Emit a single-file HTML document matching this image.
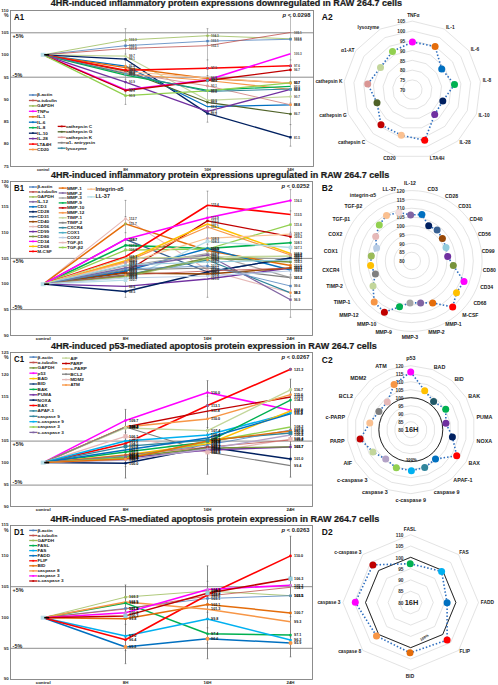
<!DOCTYPE html>
<html><head><meta charset="utf-8"><style>
html,body{margin:0;padding:0;background:#fff;width:498px;height:685px;overflow:hidden}
svg{display:block;font-family:"Liberation Sans", sans-serif}
</style></head><body>
<svg width="498" height="685" viewBox="0 0 498 685">
<rect width="498" height="685" fill="#fff"/>
<text x="50.8" y="6.3" font-size="8.9" font-weight="bold" text-anchor="start" fill="#1a1a1a" textLength="351.2" lengthAdjust="spacingAndGlyphs" stroke="#1a1a1a" stroke-width="0.22">4HR-induced inflammatory protein expressions downregulated in RAW 264.7 cells</text>
<text x="51.0" y="177.9" font-size="8.9" font-weight="bold" text-anchor="start" fill="#1a1a1a" textLength="338.2" lengthAdjust="spacingAndGlyphs" stroke="#1a1a1a" stroke-width="0.22">4HR-induced inflammatory protein expressions upregulated in RAW 264.7 cells</text>
<text x="51.0" y="349.2" font-size="8.9" font-weight="bold" text-anchor="start" fill="#1a1a1a" textLength="325.7" lengthAdjust="spacingAndGlyphs" stroke="#1a1a1a" stroke-width="0.22">4HR-induced p53-mediated apoptosis protein expression in RAW 264.7 cells</text>
<text x="50.6" y="521.6" font-size="8.9" font-weight="bold" text-anchor="start" fill="#1a1a1a" textLength="328.6" lengthAdjust="spacingAndGlyphs" stroke="#1a1a1a" stroke-width="0.22">4HR-induced FAS-mediated apoptosis protein expression in RAW 264.7 cells</text>
<rect x="10.5" y="10.5" width="303.0" height="156.0" fill="none" stroke="#808080" stroke-width="0.9"/>
<line x1="10.5" y1="32.8" x2="313.5" y2="32.8" stroke="#808080" stroke-width="0.9" />
<line x1="10.5" y1="77.2" x2="313.5" y2="77.2" stroke="#808080" stroke-width="0.9" />
<text x="12.6" y="37.8" font-size="5.4" font-weight="bold" text-anchor="start" fill="#222" >+5%</text>
<text x="12.6" y="76.5" font-size="5.4" font-weight="bold" text-anchor="start" fill="#222" >-5%</text>
<text x="1.2" y="11.8" font-size="3.7" font-weight="bold" fill="#333" textLength="7.5" lengthAdjust="spacingAndGlyphs">110</text>
<text x="1.2" y="34.0" font-size="3.7" font-weight="bold" fill="#333" textLength="7.5" lengthAdjust="spacingAndGlyphs">105</text>
<text x="1.2" y="56.3" font-size="3.7" font-weight="bold" fill="#333" textLength="7.5" lengthAdjust="spacingAndGlyphs">100</text>
<text x="3.7" y="78.5" font-size="3.7" font-weight="bold" fill="#333" textLength="5.0" lengthAdjust="spacingAndGlyphs">95</text>
<text x="3.7" y="100.8" font-size="3.7" font-weight="bold" fill="#333" textLength="5.0" lengthAdjust="spacingAndGlyphs">90</text>
<text x="3.7" y="123.0" font-size="3.7" font-weight="bold" fill="#333" textLength="5.0" lengthAdjust="spacingAndGlyphs">85</text>
<text x="3.7" y="145.3" font-size="3.7" font-weight="bold" fill="#333" textLength="5.0" lengthAdjust="spacingAndGlyphs">80</text>
<text x="3.7" y="167.6" font-size="3.7" font-weight="bold" fill="#333" textLength="5.0" lengthAdjust="spacingAndGlyphs">75</text>
<text x="8.6" y="16.7" font-size="5.2" font-weight="bold" text-anchor="end" fill="#333" >%</text>
<text x="14.0" y="20.0" font-size="8.4" font-weight="bold" text-anchor="start" fill="#111" textLength="10" lengthAdjust="spacingAndGlyphs">A1</text>
<text x="310.5" y="16.8" font-size="5.8" text-anchor="end" fill="#222" font-weight="bold"><tspan font-style="italic">p</tspan> &lt; 0.0298</text>
<text x="43.2" y="171.1" font-size="3.6" font-weight="bold" text-anchor="middle" fill="#222" >control</text>
<text x="125.5" y="171.1" font-size="3.6" font-weight="bold" text-anchor="middle" fill="#222" >8H</text>
<text x="207.5" y="171.1" font-size="3.6" font-weight="bold" text-anchor="middle" fill="#222" >16H</text>
<text x="290.5" y="171.1" font-size="3.6" font-weight="bold" text-anchor="middle" fill="#222" >24H</text>
<line x1="125.5" y1="28.7" x2="125.5" y2="104.4" stroke="#909090" stroke-width="0.6" />
<line x1="124.6" y1="28.7" x2="126.4" y2="28.7" stroke="#555" stroke-width="0.5" />
<line x1="124.6" y1="41.4" x2="126.4" y2="41.4" stroke="#555" stroke-width="0.5" />
<line x1="124.6" y1="54.0" x2="126.4" y2="54.0" stroke="#555" stroke-width="0.5" />
<line x1="124.6" y1="66.6" x2="126.4" y2="66.6" stroke="#555" stroke-width="0.5" />
<line x1="124.6" y1="79.2" x2="126.4" y2="79.2" stroke="#555" stroke-width="0.5" />
<line x1="124.6" y1="91.8" x2="126.4" y2="91.8" stroke="#555" stroke-width="0.5" />
<line x1="124.6" y1="104.4" x2="126.4" y2="104.4" stroke="#555" stroke-width="0.5" />
<line x1="207.5" y1="28.7" x2="207.5" y2="122.2" stroke="#909090" stroke-width="0.6" />
<line x1="206.6" y1="28.7" x2="208.4" y2="28.7" stroke="#555" stroke-width="0.5" />
<line x1="206.6" y1="44.3" x2="208.4" y2="44.3" stroke="#555" stroke-width="0.5" />
<line x1="206.6" y1="59.9" x2="208.4" y2="59.9" stroke="#555" stroke-width="0.5" />
<line x1="206.6" y1="75.5" x2="208.4" y2="75.5" stroke="#555" stroke-width="0.5" />
<line x1="206.6" y1="91.0" x2="208.4" y2="91.0" stroke="#555" stroke-width="0.5" />
<line x1="206.6" y1="106.6" x2="208.4" y2="106.6" stroke="#555" stroke-width="0.5" />
<line x1="206.6" y1="122.2" x2="208.4" y2="122.2" stroke="#555" stroke-width="0.5" />
<line x1="290.5" y1="16.7" x2="290.5" y2="146.2" stroke="#909090" stroke-width="0.6" />
<line x1="289.6" y1="16.7" x2="291.4" y2="16.7" stroke="#555" stroke-width="0.5" />
<line x1="289.6" y1="38.3" x2="291.4" y2="38.3" stroke="#555" stroke-width="0.5" />
<line x1="289.6" y1="59.9" x2="291.4" y2="59.9" stroke="#555" stroke-width="0.5" />
<line x1="289.6" y1="81.5" x2="291.4" y2="81.5" stroke="#555" stroke-width="0.5" />
<line x1="289.6" y1="103.1" x2="291.4" y2="103.1" stroke="#555" stroke-width="0.5" />
<line x1="289.6" y1="124.6" x2="291.4" y2="124.6" stroke="#555" stroke-width="0.5" />
<line x1="289.6" y1="146.2" x2="291.4" y2="146.2" stroke="#555" stroke-width="0.5" />
<polyline points="43.2,54.8 125.5,40.1 207.5,35.7 290.5,38.8" fill="none" stroke="#9bbb59" stroke-width="0.8" stroke-linejoin="round" />
<polyline points="43.2,54.8 125.5,45.7 207.5,41.1 290.5,39.3" fill="none" stroke="#4f81bd" stroke-width="0.8" stroke-linejoin="round" />
<polyline points="43.2,54.8 125.5,48.5 207.5,45.7 290.5,32.5" fill="none" stroke="#c0504d" stroke-width="0.8" stroke-linejoin="round" />
<polyline points="43.2,54.8 125.5,56.2 207.5,100.3 290.5,96.6" fill="none" stroke="#c3d69b" stroke-width="1.2" stroke-linejoin="round" />
<polyline points="43.2,54.8 125.5,59.2 207.5,113.4 290.5,137.3" fill="none" stroke="#002060" stroke-width="1.3" stroke-linejoin="round" />
<polyline points="43.2,54.8 125.5,66.1 207.5,106.7 290.5,104.8" fill="none" stroke="#0070c0" stroke-width="1.2" stroke-linejoin="round" />
<polyline points="43.2,54.8 125.5,67.6 207.5,78.5 290.5,83.1" fill="none" stroke="#e46c0a" stroke-width="1.3" stroke-linejoin="round" />
<polyline points="43.2,54.8 125.5,74.0 207.5,80.5 290.5,89.4" fill="none" stroke="#f79646" stroke-width="1.2" stroke-linejoin="round" />
<polyline points="43.2,54.8 125.5,71.5 207.5,78.0 290.5,83.0" fill="none" stroke="#fac090" stroke-width="1.2" stroke-linejoin="round" />
<polyline points="43.2,54.8 125.5,70.8 207.5,102.3 290.5,114.0" fill="none" stroke="#4f6228" stroke-width="1.2" stroke-linejoin="round" />
<polyline points="43.2,54.8 125.5,72.6 207.5,85.9 290.5,104.8" fill="none" stroke="#d99694" stroke-width="1.0" stroke-linejoin="round" />
<polyline points="43.2,54.8 125.5,75.1 207.5,90.3 290.5,86.3" fill="none" stroke="#00b050" stroke-width="1.3" stroke-linejoin="round" />
<polyline points="43.2,54.8 125.5,82.1 207.5,111.4 290.5,89.4" fill="none" stroke="#7030a0" stroke-width="1.3" stroke-linejoin="round" />
<polyline points="43.2,54.8 125.5,70.2 207.5,68.2 290.5,65.8" fill="none" stroke="#ff0000" stroke-width="1.4" stroke-linejoin="round" />
<polyline points="43.2,54.8 125.5,89.7 207.5,80.0 290.5,53.7" fill="none" stroke="#ff00ff" stroke-width="1.5" stroke-linejoin="round" />
<polyline points="43.2,54.8 125.5,90.5 207.5,80.5 290.5,69.9" fill="none" stroke="#c00000" stroke-width="1.3" stroke-linejoin="round" />
<polyline points="43.2,54.8 125.5,95.7 207.5,90.8 290.5,82.9" fill="none" stroke="#92d050" stroke-width="1.3" stroke-linejoin="round" />
<polyline points="43.2,54.8 125.5,73.5 207.5,91.5 290.5,89.0" fill="none" stroke="#31859c" stroke-width="1.0" stroke-linejoin="round" />
<circle cx="125.5" cy="40.1" r="1.3" fill="#9bbb59"/>
<circle cx="207.5" cy="35.7" r="1.3" fill="#9bbb59"/>
<circle cx="290.5" cy="38.8" r="1.3" fill="#9bbb59"/>
<rect x="124.3" y="44.5" width="2.4" height="2.4" fill="#4f81bd"/>
<rect x="206.3" y="39.9" width="2.4" height="2.4" fill="#4f81bd"/>
<rect x="289.3" y="38.1" width="2.4" height="2.4" fill="#4f81bd"/>
<circle cx="125.5" cy="56.2" r="1.3" fill="#c3d69b"/>
<circle cx="207.5" cy="100.3" r="1.3" fill="#c3d69b"/>
<circle cx="290.5" cy="96.6" r="1.3" fill="#c3d69b"/>
<rect x="124.3" y="58.0" width="2.4" height="2.4" fill="#002060"/>
<rect x="206.3" y="112.2" width="2.4" height="2.4" fill="#002060"/>
<rect x="289.3" y="136.1" width="2.4" height="2.4" fill="#002060"/>
<circle cx="125.5" cy="67.6" r="1.3" fill="#e46c0a"/>
<circle cx="207.5" cy="78.5" r="1.3" fill="#e46c0a"/>
<circle cx="290.5" cy="83.1" r="1.3" fill="#e46c0a"/>
<rect x="124.3" y="72.8" width="2.4" height="2.4" fill="#f79646"/>
<rect x="206.3" y="79.3" width="2.4" height="2.4" fill="#f79646"/>
<rect x="289.3" y="88.2" width="2.4" height="2.4" fill="#f79646"/>
<circle cx="125.5" cy="70.8" r="1.3" fill="#4f6228"/>
<circle cx="207.5" cy="102.3" r="1.3" fill="#4f6228"/>
<circle cx="290.5" cy="114.0" r="1.3" fill="#4f6228"/>
<rect x="124.3" y="71.4" width="2.4" height="2.4" fill="#d99694"/>
<rect x="206.3" y="84.7" width="2.4" height="2.4" fill="#d99694"/>
<rect x="289.3" y="103.6" width="2.4" height="2.4" fill="#d99694"/>
<circle cx="125.5" cy="82.1" r="1.3" fill="#7030a0"/>
<circle cx="207.5" cy="111.4" r="1.3" fill="#7030a0"/>
<circle cx="290.5" cy="89.4" r="1.3" fill="#7030a0"/>
<rect x="124.3" y="69.0" width="2.4" height="2.4" fill="#ff0000"/>
<rect x="206.3" y="67.0" width="2.4" height="2.4" fill="#ff0000"/>
<rect x="289.3" y="64.6" width="2.4" height="2.4" fill="#ff0000"/>
<circle cx="125.5" cy="90.5" r="1.3" fill="#c00000"/>
<circle cx="207.5" cy="80.5" r="1.3" fill="#c00000"/>
<circle cx="290.5" cy="69.9" r="1.3" fill="#c00000"/>
<rect x="124.3" y="94.5" width="2.4" height="2.4" fill="#92d050"/>
<rect x="206.3" y="89.6" width="2.4" height="2.4" fill="#92d050"/>
<rect x="289.3" y="81.7" width="2.4" height="2.4" fill="#92d050"/>
<rect x="124.2" y="72.7" width="2.6" height="2.6" fill="#4bacc6"/>
<rect x="206.2" y="79.2" width="2.6" height="2.6" fill="#4bacc6"/>
<rect x="289.2" y="88.1" width="2.6" height="2.6" fill="#4bacc6"/>
<circle cx="125.5" cy="66.1" r="1.3" fill="#f79646"/>
<circle cx="290.5" cy="104.8" r="1.3" fill="#f79646"/>
<rect x="206.5" y="67.2" width="2.0" height="2.0" fill="#8064a2" transform="rotate(45 207.5 68.2)"/>
<rect x="289.5" y="64.8" width="2.0" height="2.0" fill="#8064a2" transform="rotate(45 290.5 65.8)"/>
<circle cx="290.5" cy="83.1" r="1.2" fill="#f79646"/>
<text x="129.1" y="41.3" font-size="3.0" font-weight="bold" text-anchor="start" fill="#444" >103.3</text>
<text x="211.1" y="36.9" font-size="3.0" font-weight="bold" text-anchor="start" fill="#444" >104.3</text>
<text x="294.1" y="40.0" font-size="3.0" font-weight="bold" text-anchor="start" fill="#444" >103.6</text>
<text x="129.1" y="46.9" font-size="3.0" font-weight="bold" text-anchor="start" fill="#444" >102.1</text>
<text x="211.1" y="42.3" font-size="3.0" font-weight="bold" text-anchor="start" fill="#444" >103.1</text>
<text x="294.1" y="40.5" font-size="3.0" font-weight="bold" text-anchor="start" fill="#444" >103.5</text>
<text x="129.1" y="49.7" font-size="3.0" font-weight="bold" text-anchor="start" fill="#444" >101.5</text>
<text x="211.1" y="46.9" font-size="3.0" font-weight="bold" text-anchor="start" fill="#444" >102.1</text>
<text x="294.1" y="33.7" font-size="3.0" font-weight="bold" text-anchor="start" fill="#444" >105.1</text>
<text x="129.1" y="57.4" font-size="3.0" font-weight="bold" text-anchor="start" fill="#444" >99.7</text>
<text x="211.1" y="101.5" font-size="3.0" font-weight="bold" text-anchor="start" fill="#444" >89.8</text>
<text x="294.1" y="97.8" font-size="3.0" font-weight="bold" text-anchor="start" fill="#444" >90.7</text>
<text x="129.1" y="60.4" font-size="3.0" font-weight="bold" text-anchor="start" fill="#444" >99.1</text>
<text x="211.1" y="114.6" font-size="3.0" font-weight="bold" text-anchor="start" fill="#444" >86.9</text>
<text x="294.1" y="138.5" font-size="3.0" font-weight="bold" text-anchor="start" fill="#444" >81.5</text>
<text x="129.1" y="67.3" font-size="3.0" font-weight="bold" text-anchor="start" fill="#444" >97.5</text>
<text x="211.1" y="107.9" font-size="3.0" font-weight="bold" text-anchor="start" fill="#444" >88.4</text>
<text x="294.1" y="106.0" font-size="3.0" font-weight="bold" text-anchor="start" fill="#444" >88.8</text>
<text x="129.1" y="68.8" font-size="3.0" font-weight="bold" text-anchor="start" fill="#444" >97.2</text>
<text x="211.1" y="79.7" font-size="3.0" font-weight="bold" text-anchor="start" fill="#444" >94.7</text>
<text x="294.1" y="84.3" font-size="3.0" font-weight="bold" text-anchor="start" fill="#444" >93.7</text>
<text x="129.1" y="75.2" font-size="3.0" font-weight="bold" text-anchor="start" fill="#444" >95.7</text>
<text x="211.1" y="81.7" font-size="3.0" font-weight="bold" text-anchor="start" fill="#444" >94.3</text>
<text x="294.1" y="90.6" font-size="3.0" font-weight="bold" text-anchor="start" fill="#444" >92.3</text>
<text x="129.1" y="72.7" font-size="3.0" font-weight="bold" text-anchor="start" fill="#444" >96.3</text>
<text x="211.1" y="79.2" font-size="3.0" font-weight="bold" text-anchor="start" fill="#444" >94.8</text>
<text x="294.1" y="84.2" font-size="3.0" font-weight="bold" text-anchor="start" fill="#444" >93.7</text>
<text x="129.1" y="72.0" font-size="3.0" font-weight="bold" text-anchor="start" fill="#444" >96.4</text>
<text x="211.1" y="103.5" font-size="3.0" font-weight="bold" text-anchor="start" fill="#444" >89.4</text>
<text x="294.1" y="115.2" font-size="3.0" font-weight="bold" text-anchor="start" fill="#444" >86.7</text>
<text x="129.1" y="73.8" font-size="3.0" font-weight="bold" text-anchor="start" fill="#444" >96.0</text>
<text x="211.1" y="87.1" font-size="3.0" font-weight="bold" text-anchor="start" fill="#444" >93.1</text>
<text x="294.1" y="106.0" font-size="3.0" font-weight="bold" text-anchor="start" fill="#444" >88.8</text>
<text x="129.1" y="76.3" font-size="3.0" font-weight="bold" text-anchor="start" fill="#444" >95.5</text>
<text x="211.1" y="91.5" font-size="3.0" font-weight="bold" text-anchor="start" fill="#444" >92.1</text>
<text x="294.1" y="87.5" font-size="3.0" font-weight="bold" text-anchor="start" fill="#444" >93.0</text>
<text x="129.1" y="83.3" font-size="3.0" font-weight="bold" text-anchor="start" fill="#444" >93.9</text>
<text x="211.1" y="112.6" font-size="3.0" font-weight="bold" text-anchor="start" fill="#444" >87.3</text>
<text x="294.1" y="90.6" font-size="3.0" font-weight="bold" text-anchor="start" fill="#444" >92.3</text>
<text x="129.1" y="71.4" font-size="3.0" font-weight="bold" text-anchor="start" fill="#444" >96.6</text>
<text x="211.1" y="69.4" font-size="3.0" font-weight="bold" text-anchor="start" fill="#444" >97.0</text>
<text x="294.1" y="67.0" font-size="3.0" font-weight="bold" text-anchor="start" fill="#444" >97.6</text>
<text x="129.1" y="90.9" font-size="3.0" font-weight="bold" text-anchor="start" fill="#444" >92.2</text>
<text x="211.1" y="81.2" font-size="3.0" font-weight="bold" text-anchor="start" fill="#444" >94.4</text>
<text x="294.1" y="54.9" font-size="3.0" font-weight="bold" text-anchor="start" fill="#444" >100.3</text>
<text x="129.1" y="91.7" font-size="3.0" font-weight="bold" text-anchor="start" fill="#444" >92.0</text>
<text x="211.1" y="81.7" font-size="3.0" font-weight="bold" text-anchor="start" fill="#444" >94.3</text>
<text x="294.1" y="71.1" font-size="3.0" font-weight="bold" text-anchor="start" fill="#444" >96.7</text>
<text x="129.1" y="96.9" font-size="3.0" font-weight="bold" text-anchor="start" fill="#444" >90.9</text>
<text x="211.1" y="92.0" font-size="3.0" font-weight="bold" text-anchor="start" fill="#444" >92.0</text>
<text x="294.1" y="84.1" font-size="3.0" font-weight="bold" text-anchor="start" fill="#444" >93.7</text>
<text x="129.1" y="74.7" font-size="3.0" font-weight="bold" text-anchor="start" fill="#444" >95.8</text>
<text x="211.1" y="92.7" font-size="3.0" font-weight="bold" text-anchor="start" fill="#444" >91.8</text>
<text x="294.1" y="90.2" font-size="3.0" font-weight="bold" text-anchor="start" fill="#444" >92.4</text>
<rect x="40.7" y="52.8" width="5" height="4" fill="#b7dee8"/>
<line x1="44.2" y1="54.8" x2="49.2" y2="54.8" stroke="#000" stroke-width="1.6" />
<line x1="28.9" y1="95.0" x2="36.9" y2="95.0" stroke="#4f81bd" stroke-width="1.3" />
<rect x="32.0" y="94.1" width="1.8" height="1.8" fill="#4f81bd" opacity="0.8"/>
<text transform="translate(37.1,96.45) scale(1.16,1)" font-size="4.0" font-weight="bold" fill="#222">β-actin</text>
<line x1="28.9" y1="100.5" x2="36.9" y2="100.5" stroke="#c0504d" stroke-width="1.3" />
<rect x="32.0" y="99.5" width="1.8" height="1.8" fill="#c0504d" opacity="0.8"/>
<text transform="translate(37.1,101.90) scale(1.16,1)" font-size="4.0" font-weight="bold" fill="#222">α-tubulin</text>
<line x1="28.9" y1="105.9" x2="36.9" y2="105.9" stroke="#9bbb59" stroke-width="1.3" />
<rect x="32.0" y="105.0" width="1.8" height="1.8" fill="#9bbb59" opacity="0.8"/>
<text transform="translate(37.1,107.35) scale(1.16,1)" font-size="4.0" font-weight="bold" fill="#222">GAPDH</text>
<line x1="28.9" y1="111.3" x2="36.9" y2="111.3" stroke="#ff00ff" stroke-width="1.3" />
<rect x="32.0" y="110.4" width="1.8" height="1.8" fill="#ff00ff" opacity="0.8"/>
<text transform="translate(37.1,112.80) scale(1.16,1)" font-size="4.0" font-weight="bold" fill="#222">TNFα</text>
<line x1="28.9" y1="116.8" x2="36.9" y2="116.8" stroke="#e46c0a" stroke-width="1.3" />
<rect x="32.0" y="115.9" width="1.8" height="1.8" fill="#e46c0a" opacity="0.8"/>
<text transform="translate(37.1,118.25) scale(1.16,1)" font-size="4.0" font-weight="bold" fill="#222">IL-1</text>
<line x1="28.9" y1="122.2" x2="36.9" y2="122.2" stroke="#0070c0" stroke-width="1.3" />
<rect x="32.0" y="121.3" width="1.8" height="1.8" fill="#0070c0" opacity="0.8"/>
<text transform="translate(37.1,123.70) scale(1.16,1)" font-size="4.0" font-weight="bold" fill="#222">IL-6</text>
<line x1="28.9" y1="127.7" x2="36.9" y2="127.7" stroke="#00b050" stroke-width="1.3" />
<rect x="32.0" y="126.8" width="1.8" height="1.8" fill="#00b050" opacity="0.8"/>
<text transform="translate(37.1,129.15) scale(1.16,1)" font-size="4.0" font-weight="bold" fill="#222">IL-8</text>
<line x1="28.9" y1="133.2" x2="36.9" y2="133.2" stroke="#002060" stroke-width="1.3" />
<rect x="32.0" y="132.2" width="1.8" height="1.8" fill="#002060" opacity="0.8"/>
<text transform="translate(37.1,134.60) scale(1.16,1)" font-size="4.0" font-weight="bold" fill="#222">IL-10</text>
<line x1="28.9" y1="138.6" x2="36.9" y2="138.6" stroke="#7030a0" stroke-width="1.3" />
<rect x="32.0" y="137.7" width="1.8" height="1.8" fill="#7030a0" opacity="0.8"/>
<text transform="translate(37.1,140.05) scale(1.16,1)" font-size="4.0" font-weight="bold" fill="#222">IL-28</text>
<line x1="28.9" y1="144.1" x2="36.9" y2="144.1" stroke="#ff0000" stroke-width="1.3" />
<rect x="32.0" y="143.2" width="1.8" height="1.8" fill="#ff0000" opacity="0.8"/>
<text transform="translate(37.1,145.50) scale(1.16,1)" font-size="4.0" font-weight="bold" fill="#222">LTA4H</text>
<line x1="28.9" y1="149.5" x2="36.9" y2="149.5" stroke="#f79646" stroke-width="1.3" />
<rect x="32.0" y="148.6" width="1.8" height="1.8" fill="#f79646" opacity="0.8"/>
<text transform="translate(37.1,150.95) scale(1.16,1)" font-size="4.0" font-weight="bold" fill="#222">CD20</text>
<line x1="57.7" y1="126.4" x2="65.7" y2="126.4" stroke="#c00000" stroke-width="1.3" />
<rect x="60.8" y="125.5" width="1.8" height="1.8" fill="#c00000" opacity="0.8"/>
<text transform="translate(65.9,127.85) scale(1.16,1)" font-size="4.0" font-weight="bold" fill="#222">cathepsin C</text>
<line x1="57.7" y1="131.8" x2="65.7" y2="131.8" stroke="#4f6228" stroke-width="1.3" />
<rect x="60.8" y="130.9" width="1.8" height="1.8" fill="#4f6228" opacity="0.8"/>
<text transform="translate(65.9,133.30) scale(1.16,1)" font-size="4.0" font-weight="bold" fill="#222">cathepsin G</text>
<line x1="57.7" y1="137.3" x2="65.7" y2="137.3" stroke="#d99694" stroke-width="1.3" />
<rect x="60.8" y="136.4" width="1.8" height="1.8" fill="#d99694" opacity="0.8"/>
<text transform="translate(65.9,138.75) scale(1.16,1)" font-size="4.0" font-weight="bold" fill="#222">cathepsin K</text>
<line x1="57.7" y1="142.8" x2="65.7" y2="142.8" stroke="#7f7f7f" stroke-width="1.3" />
<rect x="60.8" y="141.8" width="1.8" height="1.8" fill="#7f7f7f" opacity="0.8"/>
<text transform="translate(65.9,144.20) scale(1.16,1)" font-size="4.0" font-weight="bold" fill="#222">α1- antrypsin</text>
<line x1="57.7" y1="148.2" x2="65.7" y2="148.2" stroke="#31859c" stroke-width="1.3" />
<rect x="60.8" y="147.3" width="1.8" height="1.8" fill="#31859c" opacity="0.8"/>
<text transform="translate(65.9,149.65) scale(1.16,1)" font-size="4.0" font-weight="bold" fill="#222">lysozyme</text>
<rect x="10.5" y="181.5" width="302.0" height="154.0" fill="none" stroke="#808080" stroke-width="0.9"/>
<line x1="10.5" y1="258.4" x2="312.5" y2="258.4" stroke="#808080" stroke-width="0.9" />
<line x1="10.5" y1="309.6" x2="312.5" y2="309.6" stroke="#808080" stroke-width="0.9" />
<text x="12.6" y="263.4" font-size="5.4" font-weight="bold" text-anchor="start" fill="#222" >+5%</text>
<text x="12.6" y="308.8" font-size="5.4" font-weight="bold" text-anchor="start" fill="#222" >-5%</text>
<text x="1.2" y="182.7" font-size="3.7" font-weight="bold" fill="#333" textLength="7.5" lengthAdjust="spacingAndGlyphs">120</text>
<text x="1.2" y="208.4" font-size="3.7" font-weight="bold" fill="#333" textLength="7.5" lengthAdjust="spacingAndGlyphs">115</text>
<text x="1.2" y="234.0" font-size="3.7" font-weight="bold" fill="#333" textLength="7.5" lengthAdjust="spacingAndGlyphs">110</text>
<text x="1.2" y="259.7" font-size="3.7" font-weight="bold" fill="#333" textLength="7.5" lengthAdjust="spacingAndGlyphs">105</text>
<text x="1.2" y="285.3" font-size="3.7" font-weight="bold" fill="#333" textLength="7.5" lengthAdjust="spacingAndGlyphs">100</text>
<text x="3.7" y="310.9" font-size="3.7" font-weight="bold" fill="#333" textLength="5.0" lengthAdjust="spacingAndGlyphs">95</text>
<text x="3.7" y="336.6" font-size="3.7" font-weight="bold" fill="#333" textLength="5.0" lengthAdjust="spacingAndGlyphs">90</text>
<text x="8.6" y="187.7" font-size="5.2" font-weight="bold" text-anchor="end" fill="#333" >%</text>
<text x="14.0" y="191.0" font-size="8.4" font-weight="bold" text-anchor="start" fill="#111" textLength="10" lengthAdjust="spacingAndGlyphs">B1</text>
<text x="309.5" y="187.8" font-size="5.8" text-anchor="end" fill="#222" font-weight="bold"><tspan font-style="italic">p</tspan> &lt; 0.0252</text>
<text x="43.2" y="340.1" font-size="4.4" font-weight="bold" text-anchor="middle" fill="#222" >control</text>
<text x="125.5" y="340.1" font-size="4.4" font-weight="bold" text-anchor="middle" fill="#222" >8H</text>
<text x="207.5" y="340.1" font-size="4.4" font-weight="bold" text-anchor="middle" fill="#222" >16H</text>
<text x="290.5" y="340.1" font-size="4.4" font-weight="bold" text-anchor="middle" fill="#222" >24H</text>
<line x1="125.5" y1="200.4" x2="125.5" y2="297.3" stroke="#9a9a9a" stroke-width="0.65" />
<line x1="124.6" y1="200.4" x2="126.4" y2="200.4" stroke="#555" stroke-width="0.5" />
<line x1="124.6" y1="216.5" x2="126.4" y2="216.5" stroke="#555" stroke-width="0.5" />
<line x1="124.6" y1="232.7" x2="126.4" y2="232.7" stroke="#555" stroke-width="0.5" />
<line x1="124.6" y1="248.9" x2="126.4" y2="248.9" stroke="#555" stroke-width="0.5" />
<line x1="124.6" y1="265.0" x2="126.4" y2="265.0" stroke="#555" stroke-width="0.5" />
<line x1="124.6" y1="281.2" x2="126.4" y2="281.2" stroke="#555" stroke-width="0.5" />
<line x1="124.6" y1="297.3" x2="126.4" y2="297.3" stroke="#555" stroke-width="0.5" />
<line x1="207.5" y1="191.1" x2="207.5" y2="297.3" stroke="#9a9a9a" stroke-width="0.65" />
<line x1="206.6" y1="191.1" x2="208.4" y2="191.1" stroke="#555" stroke-width="0.5" />
<line x1="206.6" y1="208.8" x2="208.4" y2="208.8" stroke="#555" stroke-width="0.5" />
<line x1="206.6" y1="226.5" x2="208.4" y2="226.5" stroke="#555" stroke-width="0.5" />
<line x1="206.6" y1="244.2" x2="208.4" y2="244.2" stroke="#555" stroke-width="0.5" />
<line x1="206.6" y1="261.9" x2="208.4" y2="261.9" stroke="#555" stroke-width="0.5" />
<line x1="206.6" y1="279.6" x2="208.4" y2="279.6" stroke="#555" stroke-width="0.5" />
<line x1="206.6" y1="297.3" x2="208.4" y2="297.3" stroke="#555" stroke-width="0.5" />
<line x1="290.5" y1="189.6" x2="290.5" y2="317.3" stroke="#9a9a9a" stroke-width="0.65" />
<line x1="289.6" y1="189.6" x2="291.4" y2="189.6" stroke="#555" stroke-width="0.5" />
<line x1="289.6" y1="210.9" x2="291.4" y2="210.9" stroke="#555" stroke-width="0.5" />
<line x1="289.6" y1="232.2" x2="291.4" y2="232.2" stroke="#555" stroke-width="0.5" />
<line x1="289.6" y1="253.5" x2="291.4" y2="253.5" stroke="#555" stroke-width="0.5" />
<line x1="289.6" y1="274.8" x2="291.4" y2="274.8" stroke="#555" stroke-width="0.5" />
<line x1="289.6" y1="296.1" x2="291.4" y2="296.1" stroke="#555" stroke-width="0.5" />
<line x1="289.6" y1="317.3" x2="291.4" y2="317.3" stroke="#555" stroke-width="0.5" />
<polyline points="43.2,284.2 125.5,218.6 207.5,270.0 290.5,292.8" fill="none" stroke="#e6b9b8" stroke-width="1.1" stroke-linejoin="round" />
<polyline points="43.2,284.2 125.5,223.9 207.5,250.5 290.5,265.5" fill="none" stroke="#e46c0a" stroke-width="1.5" stroke-linejoin="round" />
<polyline points="43.2,284.2 125.5,239.3 207.5,272.0 290.5,258.0" fill="none" stroke="#376092" stroke-width="1.3" stroke-linejoin="round" />
<polyline points="43.2,284.2 125.5,245.4 207.5,248.5 290.5,242.7" fill="none" stroke="#00b050" stroke-width="1.6" stroke-linejoin="round" />
<polyline points="43.2,284.2 125.5,250.1 207.5,249.0 290.5,224.6" fill="none" stroke="#92d050" stroke-width="1.3" stroke-linejoin="round" />
<polyline points="43.2,284.2 125.5,256.7 207.5,205.2 290.5,214.5" fill="none" stroke="#ff0000" stroke-width="1.6" stroke-linejoin="round" />
<polyline points="43.2,284.2 125.5,239.3 207.5,217.8 290.5,200.5" fill="none" stroke="#ff00ff" stroke-width="1.6" stroke-linejoin="round" />
<polyline points="43.2,284.2 125.5,272.0 207.5,220.9 290.5,236.6" fill="none" stroke="#c00000" stroke-width="1.3" stroke-linejoin="round" />
<polyline points="43.2,284.2 125.5,260.8 207.5,224.0 290.5,253.5" fill="none" stroke="#ffc000" stroke-width="1.5" stroke-linejoin="round" />
<polyline points="43.2,284.2 125.5,262.0 207.5,227.0 290.5,255.0" fill="none" stroke="#f79646" stroke-width="1.3" stroke-linejoin="round" />
<polyline points="43.2,284.2 125.5,263.0 207.5,238.3 290.5,234.2" fill="none" stroke="#fac090" stroke-width="1.2" stroke-linejoin="round" />
<polyline points="43.2,284.2 125.5,280.2 207.5,241.3 290.5,247.5" fill="none" stroke="#b7dee8" stroke-width="1.3" stroke-linejoin="round" />
<polyline points="43.2,284.2 125.5,271.0 207.5,248.5 290.5,270.0" fill="none" stroke="#0070c0" stroke-width="1.3" stroke-linejoin="round" />
<polyline points="43.2,284.2 125.5,266.0 207.5,253.6 290.5,277.6" fill="none" stroke="#a5a5a5" stroke-width="1.2" stroke-linejoin="round" />
<polyline points="43.2,284.2 125.5,286.3 207.5,279.0 290.5,268.0" fill="none" stroke="#7030a0" stroke-width="1.3" stroke-linejoin="round" />
<polyline points="43.2,284.2 125.5,291.5 207.5,272.0 290.5,258.0" fill="none" stroke="#002060" stroke-width="1.3" stroke-linejoin="round" />
<polyline points="43.2,284.2 125.5,273.0 207.5,274.0 290.5,268.0" fill="none" stroke="#984807" stroke-width="1.3" stroke-linejoin="round" />
<polyline points="43.2,284.2 125.5,275.0 207.5,260.0 290.5,292.8" fill="none" stroke="#31859c" stroke-width="1.3" stroke-linejoin="round" />
<polyline points="43.2,284.2 125.5,276.0 207.5,258.0 290.5,262.0" fill="none" stroke="#77933c" stroke-width="1.3" stroke-linejoin="round" />
<polyline points="43.2,284.2 125.5,268.0 207.5,255.0 290.5,299.7" fill="none" stroke="#8064a2" stroke-width="1.3" stroke-linejoin="round" />
<polyline points="43.2,284.2 125.5,270.0 207.5,268.0 290.5,277.6" fill="none" stroke="#7f7f7f" stroke-width="1.2" stroke-linejoin="round" />
<polyline points="43.2,284.2 125.5,265.0 207.5,262.0 290.5,260.0" fill="none" stroke="#93cddd" stroke-width="1.2" stroke-linejoin="round" />
<polyline points="43.2,284.2 125.5,269.0 207.5,266.0 290.5,286.0" fill="none" stroke="#4f81bd" stroke-width="0.8" stroke-linejoin="round" />
<polyline points="43.2,284.2 125.5,275.0 207.5,271.0 290.5,268.0" fill="none" stroke="#c0504d" stroke-width="0.8" stroke-linejoin="round" />
<polyline points="43.2,284.2 125.5,277.0 207.5,259.0 290.5,256.0" fill="none" stroke="#9bbb59" stroke-width="0.8" stroke-linejoin="round" />
<polyline points="43.2,284.2 125.5,278.0 207.5,276.0 290.5,271.0" fill="none" stroke="#b9cde5" stroke-width="1.2" stroke-linejoin="round" />
<polyline points="43.2,284.2 125.5,258.0 207.5,257.0 290.5,256.0" fill="none" stroke="#c3d69b" stroke-width="1.2" stroke-linejoin="round" />
<circle cx="125.5" cy="218.6" r="1.3" fill="#e6b9b8"/>
<circle cx="207.5" cy="270.0" r="1.3" fill="#e6b9b8"/>
<circle cx="290.5" cy="292.8" r="1.3" fill="#e6b9b8"/>
<rect x="124.3" y="222.7" width="2.4" height="2.4" fill="#e46c0a"/>
<rect x="206.3" y="249.3" width="2.4" height="2.4" fill="#e46c0a"/>
<rect x="289.3" y="264.3" width="2.4" height="2.4" fill="#e46c0a"/>
<circle cx="125.5" cy="245.4" r="1.3" fill="#00b050"/>
<circle cx="207.5" cy="248.5" r="1.3" fill="#00b050"/>
<circle cx="290.5" cy="242.7" r="1.3" fill="#00b050"/>
<rect x="124.3" y="248.9" width="2.4" height="2.4" fill="#92d050"/>
<rect x="206.3" y="247.8" width="2.4" height="2.4" fill="#92d050"/>
<rect x="289.3" y="223.4" width="2.4" height="2.4" fill="#92d050"/>
<circle cx="125.5" cy="239.3" r="1.3" fill="#ff00ff"/>
<circle cx="207.5" cy="217.8" r="1.3" fill="#ff00ff"/>
<circle cx="290.5" cy="200.5" r="1.3" fill="#ff00ff"/>
<rect x="124.3" y="270.8" width="2.4" height="2.4" fill="#c00000"/>
<rect x="206.3" y="219.7" width="2.4" height="2.4" fill="#c00000"/>
<rect x="289.3" y="235.4" width="2.4" height="2.4" fill="#c00000"/>
<circle cx="125.5" cy="262.0" r="1.3" fill="#f79646"/>
<circle cx="207.5" cy="227.0" r="1.3" fill="#f79646"/>
<circle cx="290.5" cy="255.0" r="1.3" fill="#f79646"/>
<rect x="124.3" y="261.8" width="2.4" height="2.4" fill="#fac090"/>
<rect x="206.3" y="237.1" width="2.4" height="2.4" fill="#fac090"/>
<rect x="289.3" y="233.0" width="2.4" height="2.4" fill="#fac090"/>
<circle cx="125.5" cy="271.0" r="1.3" fill="#0070c0"/>
<circle cx="207.5" cy="248.5" r="1.3" fill="#0070c0"/>
<circle cx="290.5" cy="270.0" r="1.3" fill="#0070c0"/>
<rect x="124.3" y="264.8" width="2.4" height="2.4" fill="#a5a5a5"/>
<rect x="206.3" y="252.4" width="2.4" height="2.4" fill="#a5a5a5"/>
<rect x="289.3" y="276.4" width="2.4" height="2.4" fill="#a5a5a5"/>
<circle cx="125.5" cy="291.5" r="1.3" fill="#002060"/>
<circle cx="207.5" cy="272.0" r="1.3" fill="#002060"/>
<circle cx="290.5" cy="258.0" r="1.3" fill="#002060"/>
<rect x="124.3" y="271.8" width="2.4" height="2.4" fill="#984807"/>
<rect x="206.3" y="272.8" width="2.4" height="2.4" fill="#984807"/>
<rect x="289.3" y="266.8" width="2.4" height="2.4" fill="#984807"/>
<circle cx="125.5" cy="276.0" r="1.3" fill="#77933c"/>
<circle cx="207.5" cy="258.0" r="1.3" fill="#77933c"/>
<circle cx="290.5" cy="262.0" r="1.3" fill="#77933c"/>
<rect x="124.3" y="266.8" width="2.4" height="2.4" fill="#8064a2"/>
<rect x="206.3" y="253.8" width="2.4" height="2.4" fill="#8064a2"/>
<rect x="289.3" y="298.5" width="2.4" height="2.4" fill="#8064a2"/>
<circle cx="125.5" cy="265.0" r="1.3" fill="#93cddd"/>
<circle cx="207.5" cy="262.0" r="1.3" fill="#93cddd"/>
<circle cx="290.5" cy="260.0" r="1.3" fill="#93cddd"/>
<rect x="124.3" y="267.8" width="2.4" height="2.4" fill="#4f81bd"/>
<rect x="206.3" y="264.8" width="2.4" height="2.4" fill="#4f81bd"/>
<rect x="289.3" y="284.8" width="2.4" height="2.4" fill="#4f81bd"/>
<circle cx="125.5" cy="277.0" r="1.3" fill="#9bbb59"/>
<circle cx="207.5" cy="259.0" r="1.3" fill="#9bbb59"/>
<circle cx="290.5" cy="256.0" r="1.3" fill="#9bbb59"/>
<rect x="124.3" y="276.8" width="2.4" height="2.4" fill="#b9cde5"/>
<rect x="206.3" y="274.8" width="2.4" height="2.4" fill="#b9cde5"/>
<rect x="289.3" y="269.8" width="2.4" height="2.4" fill="#b9cde5"/>
<rect x="123.7" y="278.4" width="3.6" height="3.6" fill="#b7dee8"/>
<rect x="205.7" y="239.5" width="3.6" height="3.6" fill="#b7dee8"/>
<rect x="288.7" y="245.7" width="3.6" height="3.6" fill="#b7dee8"/>
<rect x="124.2" y="260.7" width="2.6" height="2.6" fill="#d99694"/>
<rect x="206.2" y="225.7" width="2.6" height="2.6" fill="#d99694"/>
<rect x="289.2" y="253.7" width="2.6" height="2.6" fill="#d99694"/>
<circle cx="125.5" cy="223.9" r="1.2" fill="#9bbb59"/>
<circle cx="207.5" cy="250.5" r="1.2" fill="#9bbb59"/>
<circle cx="125.5" cy="275.0" r="1.2" fill="#f79646"/>
<circle cx="207.5" cy="260.0" r="1.2" fill="#f79646"/>
<circle cx="290.5" cy="292.8" r="1.2" fill="#f79646"/>
<rect x="124.4" y="261.9" width="2.2" height="2.2" fill="#b3a2c7" transform="rotate(45 125.5 263.0)"/>
<rect x="206.4" y="237.2" width="2.2" height="2.2" fill="#b3a2c7" transform="rotate(45 207.5 238.3)"/>
<rect x="289.4" y="233.1" width="2.2" height="2.2" fill="#b3a2c7" transform="rotate(45 290.5 234.2)"/>
<text x="129.1" y="219.8" font-size="3.2" font-weight="bold" text-anchor="start" fill="#333" >112.7</text>
<text x="211.1" y="271.2" font-size="3.2" font-weight="bold" text-anchor="start" fill="#333" >102.7</text>
<text x="294.1" y="294.0" font-size="3.2" font-weight="bold" text-anchor="start" fill="#333" >98.3</text>
<text x="129.1" y="225.1" font-size="3.2" font-weight="bold" text-anchor="start" fill="#333" >111.7</text>
<text x="211.1" y="251.7" font-size="3.2" font-weight="bold" text-anchor="start" fill="#333" >106.5</text>
<text x="294.1" y="266.7" font-size="3.2" font-weight="bold" text-anchor="start" fill="#333" >103.6</text>
<text x="129.1" y="240.5" font-size="3.2" font-weight="bold" text-anchor="start" fill="#333" >108.7</text>
<text x="211.1" y="273.2" font-size="3.2" font-weight="bold" text-anchor="start" fill="#333" >102.3</text>
<text x="294.1" y="259.2" font-size="3.2" font-weight="bold" text-anchor="start" fill="#333" >105.1</text>
<text x="129.1" y="246.6" font-size="3.2" font-weight="bold" text-anchor="start" fill="#333" >107.5</text>
<text x="211.1" y="249.7" font-size="3.2" font-weight="bold" text-anchor="start" fill="#333" >106.9</text>
<text x="294.1" y="243.9" font-size="3.2" font-weight="bold" text-anchor="start" fill="#333" >108.1</text>
<text x="129.1" y="251.3" font-size="3.2" font-weight="bold" text-anchor="start" fill="#333" >106.6</text>
<text x="211.1" y="250.2" font-size="3.2" font-weight="bold" text-anchor="start" fill="#333" >106.8</text>
<text x="294.1" y="225.8" font-size="3.2" font-weight="bold" text-anchor="start" fill="#333" >111.6</text>
<text x="129.1" y="257.9" font-size="3.2" font-weight="bold" text-anchor="start" fill="#333" >105.3</text>
<text x="211.1" y="206.4" font-size="3.2" font-weight="bold" text-anchor="start" fill="#333" >115.4</text>
<text x="294.1" y="215.7" font-size="3.2" font-weight="bold" text-anchor="start" fill="#333" >113.5</text>
<text x="129.1" y="240.5" font-size="3.2" font-weight="bold" text-anchor="start" fill="#333" >108.7</text>
<text x="211.1" y="219.0" font-size="3.2" font-weight="bold" text-anchor="start" fill="#333" >112.9</text>
<text x="294.1" y="201.7" font-size="3.2" font-weight="bold" text-anchor="start" fill="#333" >116.3</text>
<text x="129.1" y="273.2" font-size="3.2" font-weight="bold" text-anchor="start" fill="#333" >102.3</text>
<text x="211.1" y="222.1" font-size="3.2" font-weight="bold" text-anchor="start" fill="#333" >112.3</text>
<text x="294.1" y="237.8" font-size="3.2" font-weight="bold" text-anchor="start" fill="#333" >109.2</text>
<text x="129.1" y="262.0" font-size="3.2" font-weight="bold" text-anchor="start" fill="#333" >104.5</text>
<text x="211.1" y="225.2" font-size="3.2" font-weight="bold" text-anchor="start" fill="#333" >111.7</text>
<text x="294.1" y="254.7" font-size="3.2" font-weight="bold" text-anchor="start" fill="#333" >105.9</text>
<text x="129.1" y="263.2" font-size="3.2" font-weight="bold" text-anchor="start" fill="#333" >104.3</text>
<text x="211.1" y="228.2" font-size="3.2" font-weight="bold" text-anchor="start" fill="#333" >111.1</text>
<text x="294.1" y="256.2" font-size="3.2" font-weight="bold" text-anchor="start" fill="#333" >105.7</text>
<text x="129.1" y="264.2" font-size="3.2" font-weight="bold" text-anchor="start" fill="#333" >104.1</text>
<text x="211.1" y="239.5" font-size="3.2" font-weight="bold" text-anchor="start" fill="#333" >108.9</text>
<text x="294.1" y="235.4" font-size="3.2" font-weight="bold" text-anchor="start" fill="#333" >109.7</text>
<text x="129.1" y="281.4" font-size="3.2" font-weight="bold" text-anchor="start" fill="#333" >100.7</text>
<text x="211.1" y="242.5" font-size="3.2" font-weight="bold" text-anchor="start" fill="#333" >108.3</text>
<text x="294.1" y="248.7" font-size="3.2" font-weight="bold" text-anchor="start" fill="#333" >107.1</text>
<text x="129.1" y="272.2" font-size="3.2" font-weight="bold" text-anchor="start" fill="#333" >102.5</text>
<text x="211.1" y="249.7" font-size="3.2" font-weight="bold" text-anchor="start" fill="#333" >106.9</text>
<text x="294.1" y="271.2" font-size="3.2" font-weight="bold" text-anchor="start" fill="#333" >102.7</text>
<text x="129.1" y="267.2" font-size="3.2" font-weight="bold" text-anchor="start" fill="#333" >103.5</text>
<text x="211.1" y="254.8" font-size="3.2" font-weight="bold" text-anchor="start" fill="#333" >105.9</text>
<text x="294.1" y="278.8" font-size="3.2" font-weight="bold" text-anchor="start" fill="#333" >101.2</text>
<text x="129.1" y="287.5" font-size="3.2" font-weight="bold" text-anchor="start" fill="#333" >99.6</text>
<text x="211.1" y="280.2" font-size="3.2" font-weight="bold" text-anchor="start" fill="#333" >101.0</text>
<text x="294.1" y="269.2" font-size="3.2" font-weight="bold" text-anchor="start" fill="#333" >103.1</text>
<text x="129.1" y="292.7" font-size="3.2" font-weight="bold" text-anchor="start" fill="#333" >98.5</text>
<text x="211.1" y="273.2" font-size="3.2" font-weight="bold" text-anchor="start" fill="#333" >102.3</text>
<text x="294.1" y="259.2" font-size="3.2" font-weight="bold" text-anchor="start" fill="#333" >105.1</text>
<text x="129.1" y="274.2" font-size="3.2" font-weight="bold" text-anchor="start" fill="#333" >102.1</text>
<text x="211.1" y="275.2" font-size="3.2" font-weight="bold" text-anchor="start" fill="#333" >101.9</text>
<text x="294.1" y="269.2" font-size="3.2" font-weight="bold" text-anchor="start" fill="#333" >103.1</text>
<text x="129.1" y="276.2" font-size="3.2" font-weight="bold" text-anchor="start" fill="#333" >101.8</text>
<text x="211.1" y="261.2" font-size="3.2" font-weight="bold" text-anchor="start" fill="#333" >104.7</text>
<text x="294.1" y="294.0" font-size="3.2" font-weight="bold" text-anchor="start" fill="#333" >98.3</text>
<text x="129.1" y="277.2" font-size="3.2" font-weight="bold" text-anchor="start" fill="#333" >101.6</text>
<text x="211.1" y="259.2" font-size="3.2" font-weight="bold" text-anchor="start" fill="#333" >105.1</text>
<text x="294.1" y="263.2" font-size="3.2" font-weight="bold" text-anchor="start" fill="#333" >104.3</text>
<text x="129.1" y="269.2" font-size="3.2" font-weight="bold" text-anchor="start" fill="#333" >103.1</text>
<text x="211.1" y="256.2" font-size="3.2" font-weight="bold" text-anchor="start" fill="#333" >105.7</text>
<text x="294.1" y="300.9" font-size="3.2" font-weight="bold" text-anchor="start" fill="#333" >96.9</text>
<text x="129.1" y="271.2" font-size="3.2" font-weight="bold" text-anchor="start" fill="#333" >102.7</text>
<text x="211.1" y="269.2" font-size="3.2" font-weight="bold" text-anchor="start" fill="#333" >103.1</text>
<text x="294.1" y="278.8" font-size="3.2" font-weight="bold" text-anchor="start" fill="#333" >101.2</text>
<text x="129.1" y="266.2" font-size="3.2" font-weight="bold" text-anchor="start" fill="#333" >103.7</text>
<text x="211.1" y="263.2" font-size="3.2" font-weight="bold" text-anchor="start" fill="#333" >104.3</text>
<text x="294.1" y="261.2" font-size="3.2" font-weight="bold" text-anchor="start" fill="#333" >104.7</text>
<text x="129.1" y="270.2" font-size="3.2" font-weight="bold" text-anchor="start" fill="#333" >102.9</text>
<text x="211.1" y="267.2" font-size="3.2" font-weight="bold" text-anchor="start" fill="#333" >103.5</text>
<text x="294.1" y="287.2" font-size="3.2" font-weight="bold" text-anchor="start" fill="#333" >99.6</text>
<text x="129.1" y="276.2" font-size="3.2" font-weight="bold" text-anchor="start" fill="#333" >101.8</text>
<text x="211.1" y="272.2" font-size="3.2" font-weight="bold" text-anchor="start" fill="#333" >102.5</text>
<text x="294.1" y="269.2" font-size="3.2" font-weight="bold" text-anchor="start" fill="#333" >103.1</text>
<text x="129.1" y="278.2" font-size="3.2" font-weight="bold" text-anchor="start" fill="#333" >101.4</text>
<text x="211.1" y="260.2" font-size="3.2" font-weight="bold" text-anchor="start" fill="#333" >104.9</text>
<text x="294.1" y="257.2" font-size="3.2" font-weight="bold" text-anchor="start" fill="#333" >105.5</text>
<text x="129.1" y="279.2" font-size="3.2" font-weight="bold" text-anchor="start" fill="#333" >101.2</text>
<text x="211.1" y="277.2" font-size="3.2" font-weight="bold" text-anchor="start" fill="#333" >101.6</text>
<text x="294.1" y="272.2" font-size="3.2" font-weight="bold" text-anchor="start" fill="#333" >102.5</text>
<text x="129.1" y="259.2" font-size="3.2" font-weight="bold" text-anchor="start" fill="#333" >105.1</text>
<text x="211.1" y="258.2" font-size="3.2" font-weight="bold" text-anchor="start" fill="#333" >105.3</text>
<text x="294.1" y="257.2" font-size="3.2" font-weight="bold" text-anchor="start" fill="#333" >105.5</text>
<rect x="40.7" y="282.2" width="5" height="4" fill="#b7dee8"/>
<line x1="44.2" y1="284.2" x2="49.2" y2="284.2" stroke="#000" stroke-width="1.6" />
<line x1="29.0" y1="187.0" x2="37.0" y2="187.0" stroke="#4f81bd" stroke-width="1.3" />
<rect x="32.1" y="186.1" width="1.8" height="1.8" fill="#4f81bd" opacity="0.8"/>
<text transform="translate(37.2,188.45) scale(1.16,1)" font-size="4.0" font-weight="bold" fill="#222">β-actin</text>
<line x1="29.0" y1="191.9" x2="37.0" y2="191.9" stroke="#c0504d" stroke-width="1.3" />
<rect x="32.1" y="191.0" width="1.8" height="1.8" fill="#c0504d" opacity="0.8"/>
<text transform="translate(37.2,193.40) scale(1.16,1)" font-size="4.0" font-weight="bold" fill="#222">α-tubulin</text>
<line x1="29.0" y1="196.9" x2="37.0" y2="196.9" stroke="#9bbb59" stroke-width="1.3" />
<rect x="32.1" y="196.0" width="1.8" height="1.8" fill="#9bbb59" opacity="0.8"/>
<text transform="translate(37.2,198.35) scale(1.16,1)" font-size="4.0" font-weight="bold" fill="#222">GAPDH</text>
<line x1="29.0" y1="201.8" x2="37.0" y2="201.8" stroke="#8064a2" stroke-width="1.3" />
<rect x="32.1" y="200.9" width="1.8" height="1.8" fill="#8064a2" opacity="0.8"/>
<text transform="translate(37.2,203.30) scale(1.16,1)" font-size="4.0" font-weight="bold" fill="#222">IL-12</text>
<line x1="29.0" y1="206.8" x2="37.0" y2="206.8" stroke="#0070c0" stroke-width="1.3" />
<rect x="32.1" y="205.9" width="1.8" height="1.8" fill="#0070c0" opacity="0.8"/>
<text transform="translate(37.2,208.25) scale(1.16,1)" font-size="4.0" font-weight="bold" fill="#222">CD3</text>
<line x1="29.0" y1="211.8" x2="37.0" y2="211.8" stroke="#002060" stroke-width="1.3" />
<rect x="32.1" y="210.8" width="1.8" height="1.8" fill="#002060" opacity="0.8"/>
<text transform="translate(37.2,213.20) scale(1.16,1)" font-size="4.0" font-weight="bold" fill="#222">CD28</text>
<line x1="29.0" y1="216.7" x2="37.0" y2="216.7" stroke="#376092" stroke-width="1.3" />
<rect x="32.1" y="215.8" width="1.8" height="1.8" fill="#376092" opacity="0.8"/>
<text transform="translate(37.2,218.15) scale(1.16,1)" font-size="4.0" font-weight="bold" fill="#222">CD31</text>
<line x1="29.0" y1="221.7" x2="37.0" y2="221.7" stroke="#984807" stroke-width="1.3" />
<rect x="32.1" y="220.8" width="1.8" height="1.8" fill="#984807" opacity="0.8"/>
<text transform="translate(37.2,223.10) scale(1.16,1)" font-size="4.0" font-weight="bold" fill="#222">CD40</text>
<line x1="29.0" y1="226.6" x2="37.0" y2="226.6" stroke="#e6b9b8" stroke-width="1.3" />
<rect x="32.1" y="225.7" width="1.8" height="1.8" fill="#e6b9b8" opacity="0.8"/>
<text transform="translate(37.2,228.05) scale(1.16,1)" font-size="4.0" font-weight="bold" fill="#222">CD56</text>
<line x1="29.0" y1="231.6" x2="37.0" y2="231.6" stroke="#7030a0" stroke-width="1.3" />
<rect x="32.1" y="230.7" width="1.8" height="1.8" fill="#7030a0" opacity="0.8"/>
<text transform="translate(37.2,233.00) scale(1.16,1)" font-size="4.0" font-weight="bold" fill="#222">CD99</text>
<line x1="29.0" y1="236.5" x2="37.0" y2="236.5" stroke="#77933c" stroke-width="1.3" />
<rect x="32.1" y="235.6" width="1.8" height="1.8" fill="#77933c" opacity="0.8"/>
<text transform="translate(37.2,237.95) scale(1.16,1)" font-size="4.0" font-weight="bold" fill="#222">CD80</text>
<line x1="29.0" y1="241.4" x2="37.0" y2="241.4" stroke="#ff00ff" stroke-width="1.3" />
<rect x="32.1" y="240.5" width="1.8" height="1.8" fill="#ff00ff" opacity="0.8"/>
<text transform="translate(37.2,242.90) scale(1.16,1)" font-size="4.0" font-weight="bold" fill="#222">CD34</text>
<line x1="29.0" y1="246.4" x2="37.0" y2="246.4" stroke="#ffc000" stroke-width="1.3" />
<rect x="32.1" y="245.5" width="1.8" height="1.8" fill="#ffc000" opacity="0.8"/>
<text transform="translate(37.2,247.85) scale(1.16,1)" font-size="4.0" font-weight="bold" fill="#222">CD68</text>
<line x1="29.0" y1="251.4" x2="37.0" y2="251.4" stroke="#ff0000" stroke-width="1.3" />
<rect x="32.1" y="250.5" width="1.8" height="1.8" fill="#ff0000" opacity="0.8"/>
<text transform="translate(37.2,252.80) scale(1.16,1)" font-size="4.0" font-weight="bold" fill="#222">M-CSF</text>
<line x1="58.7" y1="188.1" x2="66.7" y2="188.1" stroke="#e46c0a" stroke-width="1.3" />
<rect x="61.8" y="187.2" width="1.8" height="1.8" fill="#e46c0a" opacity="0.8"/>
<text transform="translate(66.9,189.55) scale(1.16,1)" font-size="4.0" font-weight="bold" fill="#222">MMP-1</text>
<line x1="58.7" y1="193.0" x2="66.7" y2="193.0" stroke="#8064a2" stroke-width="1.3" />
<rect x="61.8" y="192.1" width="1.8" height="1.8" fill="#8064a2" opacity="0.8"/>
<text transform="translate(66.9,194.50) scale(1.16,1)" font-size="4.0" font-weight="bold" fill="#222">MMP-2</text>
<line x1="58.7" y1="198.0" x2="66.7" y2="198.0" stroke="#a5a5a5" stroke-width="1.3" />
<rect x="61.8" y="197.1" width="1.8" height="1.8" fill="#a5a5a5" opacity="0.8"/>
<text transform="translate(66.9,199.45) scale(1.16,1)" font-size="4.0" font-weight="bold" fill="#222">MMP-3</text>
<line x1="58.7" y1="202.9" x2="66.7" y2="202.9" stroke="#00b050" stroke-width="1.3" />
<rect x="61.8" y="202.0" width="1.8" height="1.8" fill="#00b050" opacity="0.8"/>
<text transform="translate(66.9,204.40) scale(1.16,1)" font-size="4.0" font-weight="bold" fill="#222">MMP-9</text>
<line x1="58.7" y1="207.9" x2="66.7" y2="207.9" stroke="#c00000" stroke-width="1.3" />
<rect x="61.8" y="207.0" width="1.8" height="1.8" fill="#c00000" opacity="0.8"/>
<text transform="translate(66.9,209.35) scale(1.16,1)" font-size="4.0" font-weight="bold" fill="#222">MMP-10</text>
<line x1="58.7" y1="212.8" x2="66.7" y2="212.8" stroke="#f79646" stroke-width="1.3" />
<rect x="61.8" y="211.9" width="1.8" height="1.8" fill="#f79646" opacity="0.8"/>
<text transform="translate(66.9,214.30) scale(1.16,1)" font-size="4.0" font-weight="bold" fill="#222">MMP-12</text>
<line x1="58.7" y1="217.8" x2="66.7" y2="217.8" stroke="#c3d69b" stroke-width="1.3" />
<rect x="61.8" y="216.9" width="1.8" height="1.8" fill="#c3d69b" opacity="0.8"/>
<text transform="translate(66.9,219.25) scale(1.16,1)" font-size="4.0" font-weight="bold" fill="#222">TIMP-1</text>
<line x1="58.7" y1="222.8" x2="66.7" y2="222.8" stroke="#7f7f7f" stroke-width="1.3" />
<rect x="61.8" y="221.8" width="1.8" height="1.8" fill="#7f7f7f" opacity="0.8"/>
<text transform="translate(66.9,224.20) scale(1.16,1)" font-size="4.0" font-weight="bold" fill="#222">TIMP-2</text>
<line x1="58.7" y1="227.7" x2="66.7" y2="227.7" stroke="#31859c" stroke-width="1.3" />
<rect x="61.8" y="226.8" width="1.8" height="1.8" fill="#31859c" opacity="0.8"/>
<text transform="translate(66.9,229.15) scale(1.16,1)" font-size="4.0" font-weight="bold" fill="#222">CXCR4</text>
<line x1="58.7" y1="232.7" x2="66.7" y2="232.7" stroke="#4bacc6" stroke-width="1.3" />
<rect x="61.8" y="231.8" width="1.8" height="1.8" fill="#4bacc6" opacity="0.8"/>
<text transform="translate(66.9,234.10) scale(1.16,1)" font-size="4.0" font-weight="bold" fill="#222">COX1</text>
<line x1="58.7" y1="237.6" x2="66.7" y2="237.6" stroke="#b9cde5" stroke-width="1.3" />
<rect x="61.8" y="236.7" width="1.8" height="1.8" fill="#b9cde5" opacity="0.8"/>
<text transform="translate(66.9,239.05) scale(1.16,1)" font-size="4.0" font-weight="bold" fill="#222">COX2</text>
<line x1="58.7" y1="242.6" x2="66.7" y2="242.6" stroke="#e6b9b8" stroke-width="1.3" />
<rect x="61.8" y="241.7" width="1.8" height="1.8" fill="#e6b9b8" opacity="0.8"/>
<text transform="translate(66.9,244.00) scale(1.16,1)" font-size="4.0" font-weight="bold" fill="#222">TGF-β1</text>
<line x1="58.7" y1="247.5" x2="66.7" y2="247.5" stroke="#92d050" stroke-width="1.3" />
<rect x="61.8" y="246.6" width="1.8" height="1.8" fill="#92d050" opacity="0.8"/>
<text transform="translate(66.9,248.95) scale(1.16,1)" font-size="4.0" font-weight="bold" fill="#222">TGF-β2</text>
<line x1="87.2" y1="189.2" x2="95.2" y2="189.2" stroke="#fac090" stroke-width="1.3" />
<rect x="90.3" y="188.3" width="1.8" height="1.8" fill="#fac090" opacity="0.8"/>
<text transform="translate(95.4,190.65) scale(1.16,1)" font-size="4.7" font-weight="bold" fill="#222">Integrin-α5</text>
<line x1="87.2" y1="196.9" x2="95.2" y2="196.9" stroke="#b7dee8" stroke-width="1.3" />
<rect x="90.3" y="196.0" width="1.8" height="1.8" fill="#b7dee8" opacity="0.8"/>
<text transform="translate(95.4,198.35) scale(1.16,1)" font-size="4.7" font-weight="bold" fill="#222">LL-37</text>
<rect x="10.5" y="352.5" width="302.0" height="154.0" fill="none" stroke="#808080" stroke-width="0.9"/>
<line x1="10.5" y1="441.1" x2="312.5" y2="441.1" stroke="#808080" stroke-width="0.9" />
<line x1="10.5" y1="485.1" x2="312.5" y2="485.1" stroke="#808080" stroke-width="0.9" />
<text x="12.6" y="446.1" font-size="5.4" font-weight="bold" text-anchor="start" fill="#222" >+5%</text>
<text x="12.6" y="484.3" font-size="5.4" font-weight="bold" text-anchor="start" fill="#222" >-5%</text>
<text x="1.2" y="354.4" font-size="3.7" font-weight="bold" fill="#333" textLength="7.5" lengthAdjust="spacingAndGlyphs">125</text>
<text x="1.2" y="376.4" font-size="3.7" font-weight="bold" fill="#333" textLength="7.5" lengthAdjust="spacingAndGlyphs">120</text>
<text x="1.2" y="398.4" font-size="3.7" font-weight="bold" fill="#333" textLength="7.5" lengthAdjust="spacingAndGlyphs">115</text>
<text x="1.2" y="420.4" font-size="3.7" font-weight="bold" fill="#333" textLength="7.5" lengthAdjust="spacingAndGlyphs">110</text>
<text x="1.2" y="442.4" font-size="3.7" font-weight="bold" fill="#333" textLength="7.5" lengthAdjust="spacingAndGlyphs">105</text>
<text x="1.2" y="464.4" font-size="3.7" font-weight="bold" fill="#333" textLength="7.5" lengthAdjust="spacingAndGlyphs">100</text>
<text x="3.7" y="486.4" font-size="3.7" font-weight="bold" fill="#333" textLength="5.0" lengthAdjust="spacingAndGlyphs">95</text>
<text x="3.7" y="508.4" font-size="3.7" font-weight="bold" fill="#333" textLength="5.0" lengthAdjust="spacingAndGlyphs">90</text>
<text x="8.6" y="358.7" font-size="5.2" font-weight="bold" text-anchor="end" fill="#333" >%</text>
<text x="14.0" y="362.0" font-size="8.4" font-weight="bold" text-anchor="start" fill="#111" textLength="10" lengthAdjust="spacingAndGlyphs">C1</text>
<text x="309.5" y="358.8" font-size="5.8" text-anchor="end" fill="#222" font-weight="bold"><tspan font-style="italic">p</tspan> &lt; 0.0267</text>
<text x="43.2" y="511.1" font-size="4.4" font-weight="bold" text-anchor="middle" fill="#222" >control</text>
<text x="125.5" y="511.1" font-size="4.4" font-weight="bold" text-anchor="middle" fill="#222" >8H</text>
<text x="207.5" y="511.1" font-size="4.4" font-weight="bold" text-anchor="middle" fill="#222" >16H</text>
<text x="290.5" y="511.1" font-size="4.4" font-weight="bold" text-anchor="middle" fill="#222" >24H</text>
<line x1="125.5" y1="409.4" x2="125.5" y2="478.1" stroke="#5a5a5a" stroke-width="0.75" />
<line x1="124.6" y1="409.4" x2="126.4" y2="409.4" stroke="#555" stroke-width="0.5" />
<line x1="124.6" y1="420.9" x2="126.4" y2="420.9" stroke="#555" stroke-width="0.5" />
<line x1="124.6" y1="432.3" x2="126.4" y2="432.3" stroke="#555" stroke-width="0.5" />
<line x1="124.6" y1="443.7" x2="126.4" y2="443.7" stroke="#555" stroke-width="0.5" />
<line x1="124.6" y1="455.2" x2="126.4" y2="455.2" stroke="#555" stroke-width="0.5" />
<line x1="124.6" y1="466.6" x2="126.4" y2="466.6" stroke="#555" stroke-width="0.5" />
<line x1="124.6" y1="478.1" x2="126.4" y2="478.1" stroke="#555" stroke-width="0.5" />
<line x1="207.5" y1="380.6" x2="207.5" y2="474.3" stroke="#5a5a5a" stroke-width="0.75" />
<line x1="206.6" y1="380.6" x2="208.4" y2="380.6" stroke="#555" stroke-width="0.5" />
<line x1="206.6" y1="396.2" x2="208.4" y2="396.2" stroke="#555" stroke-width="0.5" />
<line x1="206.6" y1="411.8" x2="208.4" y2="411.8" stroke="#555" stroke-width="0.5" />
<line x1="206.6" y1="427.5" x2="208.4" y2="427.5" stroke="#555" stroke-width="0.5" />
<line x1="206.6" y1="443.1" x2="208.4" y2="443.1" stroke="#555" stroke-width="0.5" />
<line x1="206.6" y1="458.7" x2="208.4" y2="458.7" stroke="#555" stroke-width="0.5" />
<line x1="206.6" y1="474.3" x2="208.4" y2="474.3" stroke="#555" stroke-width="0.5" />
<line x1="290.5" y1="379.1" x2="290.5" y2="477.2" stroke="#5a5a5a" stroke-width="0.75" />
<line x1="289.6" y1="379.1" x2="291.4" y2="379.1" stroke="#555" stroke-width="0.5" />
<line x1="289.6" y1="395.4" x2="291.4" y2="395.4" stroke="#555" stroke-width="0.5" />
<line x1="289.6" y1="411.8" x2="291.4" y2="411.8" stroke="#555" stroke-width="0.5" />
<line x1="289.6" y1="428.1" x2="291.4" y2="428.1" stroke="#555" stroke-width="0.5" />
<line x1="289.6" y1="444.5" x2="291.4" y2="444.5" stroke="#555" stroke-width="0.5" />
<line x1="289.6" y1="460.8" x2="291.4" y2="460.8" stroke="#555" stroke-width="0.5" />
<line x1="289.6" y1="477.2" x2="291.4" y2="477.2" stroke="#555" stroke-width="0.5" />
<polyline points="43.2,462.6 125.5,420.4 207.5,392.5 290.5,410.2" fill="none" stroke="#ff00ff" stroke-width="1.6" stroke-linejoin="round" />
<polyline points="43.2,462.6 125.5,443.5 207.5,405.6 290.5,369.3" fill="none" stroke="#ff0000" stroke-width="1.6" stroke-linejoin="round" />
<polyline points="43.2,462.6 125.5,427.0 207.5,411.2 290.5,397.0" fill="none" stroke="#c00000" stroke-width="1.3" stroke-linejoin="round" />
<polyline points="43.2,462.6 125.5,427.0 207.5,418.9 290.5,394.6" fill="none" stroke="#f79646" stroke-width="1.5" stroke-linejoin="round" />
<polyline points="43.2,462.6 125.5,428.0 207.5,430.6 290.5,389.8" fill="none" stroke="#c3d69b" stroke-width="1.3" stroke-linejoin="round" />
<polyline points="43.2,462.6 125.5,427.0 207.5,452.0 290.5,465.7" fill="none" stroke="#7f7f7f" stroke-width="1.2" stroke-linejoin="round" />
<polyline points="43.2,462.6 125.5,436.3 207.5,452.3 290.5,439.2" fill="none" stroke="#e6b9b8" stroke-width="1.3" stroke-linejoin="round" />
<polyline points="43.2,462.6 125.5,441.0 207.5,435.0 290.5,413.0" fill="none" stroke="#00b0f0" stroke-width="1.5" stroke-linejoin="round" />
<polyline points="43.2,462.6 125.5,446.4 207.5,440.0 290.5,433.0" fill="none" stroke="#31859c" stroke-width="1.3" stroke-linejoin="round" />
<polyline points="43.2,462.6 125.5,452.0 207.5,442.0 290.5,400.1" fill="none" stroke="#00b050" stroke-width="1.5" stroke-linejoin="round" />
<polyline points="43.2,462.6 125.5,455.0 207.5,444.0 290.5,411.0" fill="none" stroke="#ffc000" stroke-width="1.5" stroke-linejoin="round" />
<polyline points="43.2,462.6 125.5,450.0 207.5,438.0 290.5,413.9" fill="none" stroke="#0070c0" stroke-width="1.5" stroke-linejoin="round" />
<polyline points="43.2,462.6 125.5,463.3 207.5,447.0 290.5,458.9" fill="none" stroke="#002060" stroke-width="1.5" stroke-linejoin="round" />
<polyline points="43.2,462.6 125.5,458.0 207.5,450.0 290.5,446.9" fill="none" stroke="#7030a0" stroke-width="1.5" stroke-linejoin="round" />
<polyline points="43.2,462.6 125.5,457.0 207.5,448.0 290.5,446.9" fill="none" stroke="#77933c" stroke-width="1.3" stroke-linejoin="round" />
<polyline points="43.2,462.6 125.5,456.0 207.5,445.0 290.5,430.0" fill="none" stroke="#4f81bd" stroke-width="0.8" stroke-linejoin="round" />
<polyline points="43.2,462.6 125.5,455.0 207.5,447.0 290.5,440.0" fill="none" stroke="#c0504d" stroke-width="0.8" stroke-linejoin="round" />
<polyline points="43.2,462.6 125.5,458.0 207.5,442.0 290.5,427.0" fill="none" stroke="#92d050" stroke-width="1.3" stroke-linejoin="round" />
<polyline points="43.2,462.6 125.5,460.0 207.5,449.0 290.5,435.0" fill="none" stroke="#b3a2c7" stroke-width="1.3" stroke-linejoin="round" />
<polyline points="43.2,462.6 125.5,459.0 207.5,441.0 290.5,431.0" fill="none" stroke="#e46c0a" stroke-width="1.3" stroke-linejoin="round" />
<circle cx="125.5" cy="420.4" r="1.3" fill="#ff00ff"/>
<circle cx="207.5" cy="392.5" r="1.3" fill="#ff00ff"/>
<circle cx="290.5" cy="410.2" r="1.3" fill="#ff00ff"/>
<rect x="124.3" y="442.3" width="2.4" height="2.4" fill="#ff0000"/>
<rect x="206.3" y="404.4" width="2.4" height="2.4" fill="#ff0000"/>
<rect x="289.3" y="368.1" width="2.4" height="2.4" fill="#ff0000"/>
<circle cx="125.5" cy="427.0" r="1.3" fill="#f79646"/>
<circle cx="207.5" cy="418.9" r="1.3" fill="#f79646"/>
<circle cx="290.5" cy="394.6" r="1.3" fill="#f79646"/>
<rect x="124.3" y="426.8" width="2.4" height="2.4" fill="#c3d69b"/>
<rect x="206.3" y="429.4" width="2.4" height="2.4" fill="#c3d69b"/>
<rect x="289.3" y="388.6" width="2.4" height="2.4" fill="#c3d69b"/>
<circle cx="125.5" cy="436.3" r="1.3" fill="#e6b9b8"/>
<circle cx="207.5" cy="452.3" r="1.3" fill="#e6b9b8"/>
<circle cx="290.5" cy="439.2" r="1.3" fill="#e6b9b8"/>
<rect x="124.3" y="439.8" width="2.4" height="2.4" fill="#00b0f0"/>
<rect x="206.3" y="433.8" width="2.4" height="2.4" fill="#00b0f0"/>
<rect x="289.3" y="411.8" width="2.4" height="2.4" fill="#00b0f0"/>
<circle cx="125.5" cy="452.0" r="1.3" fill="#00b050"/>
<circle cx="207.5" cy="442.0" r="1.3" fill="#00b050"/>
<circle cx="290.5" cy="400.1" r="1.3" fill="#00b050"/>
<rect x="124.3" y="453.8" width="2.4" height="2.4" fill="#ffc000"/>
<rect x="206.3" y="442.8" width="2.4" height="2.4" fill="#ffc000"/>
<rect x="289.3" y="409.8" width="2.4" height="2.4" fill="#ffc000"/>
<circle cx="125.5" cy="463.3" r="1.3" fill="#002060"/>
<circle cx="207.5" cy="447.0" r="1.3" fill="#002060"/>
<circle cx="290.5" cy="458.9" r="1.3" fill="#002060"/>
<rect x="124.3" y="456.8" width="2.4" height="2.4" fill="#7030a0"/>
<rect x="206.3" y="448.8" width="2.4" height="2.4" fill="#7030a0"/>
<rect x="289.3" y="445.7" width="2.4" height="2.4" fill="#7030a0"/>
<circle cx="125.5" cy="456.0" r="1.3" fill="#4f81bd"/>
<circle cx="207.5" cy="445.0" r="1.3" fill="#4f81bd"/>
<circle cx="290.5" cy="430.0" r="1.3" fill="#4f81bd"/>
<rect x="124.3" y="453.8" width="2.4" height="2.4" fill="#c0504d"/>
<rect x="206.3" y="445.8" width="2.4" height="2.4" fill="#c0504d"/>
<rect x="289.3" y="438.8" width="2.4" height="2.4" fill="#c0504d"/>
<circle cx="125.5" cy="460.0" r="1.3" fill="#b3a2c7"/>
<circle cx="207.5" cy="449.0" r="1.3" fill="#b3a2c7"/>
<circle cx="290.5" cy="435.0" r="1.3" fill="#b3a2c7"/>
<rect x="124.3" y="457.8" width="2.4" height="2.4" fill="#e46c0a"/>
<rect x="206.3" y="439.8" width="2.4" height="2.4" fill="#e46c0a"/>
<rect x="289.3" y="429.8" width="2.4" height="2.4" fill="#e46c0a"/>
<rect x="123.4" y="434.2" width="4.2" height="4.2" fill="#e6b9b8"/>
<rect x="205.4" y="450.2" width="4.2" height="4.2" fill="#e6b9b8"/>
<rect x="288.4" y="437.1" width="4.2" height="4.2" fill="#e6b9b8"/>
<rect x="123.6" y="444.5" width="3.8" height="3.8" fill="#31859c"/>
<rect x="205.6" y="438.1" width="3.8" height="3.8" fill="#31859c"/>
<rect x="288.6" y="431.1" width="3.8" height="3.8" fill="#31859c"/>
<circle cx="125.5" cy="428.0" r="1.8" fill="#c3d69b"/>
<circle cx="207.5" cy="430.6" r="1.8" fill="#c3d69b"/>
<circle cx="290.5" cy="389.8" r="1.8" fill="#c3d69b"/>
<circle cx="125.5" cy="459.0" r="1.5" fill="#f79646"/>
<rect x="206.2" y="404.3" width="2.6" height="2.6" fill="#8064a2" transform="rotate(45 207.5 405.6)"/>
<rect x="289.2" y="368.0" width="2.6" height="2.6" fill="#8064a2" transform="rotate(45 290.5 369.3)"/>
<text x="129.1" y="421.6" font-size="3.7" font-weight="bold" text-anchor="start" fill="#111" >109.7</text>
<text x="211.1" y="393.7" font-size="3.7" font-weight="bold" text-anchor="start" fill="#111" >116.0</text>
<text x="294.1" y="411.4" font-size="3.7" font-weight="bold" text-anchor="start" fill="#111" >112.0</text>
<text x="129.1" y="444.7" font-size="3.7" font-weight="bold" text-anchor="start" fill="#111" >104.5</text>
<text x="211.1" y="406.8" font-size="3.7" font-weight="bold" text-anchor="start" fill="#111" >113.1</text>
<text x="294.1" y="370.5" font-size="3.7" font-weight="bold" text-anchor="start" fill="#111" >121.3</text>
<text x="129.1" y="428.2" font-size="3.7" font-weight="bold" text-anchor="start" fill="#111" >108.2</text>
<text x="211.1" y="412.4" font-size="3.7" font-weight="bold" text-anchor="start" fill="#111" >111.8</text>
<text x="294.1" y="398.2" font-size="3.7" font-weight="bold" text-anchor="start" fill="#111" >115.0</text>
<text x="129.1" y="428.2" font-size="3.7" font-weight="bold" text-anchor="start" fill="#111" >108.2</text>
<text x="211.1" y="420.1" font-size="3.7" font-weight="bold" text-anchor="start" fill="#111" >110.0</text>
<text x="294.1" y="395.8" font-size="3.7" font-weight="bold" text-anchor="start" fill="#111" >115.6</text>
<text x="129.1" y="429.2" font-size="3.7" font-weight="bold" text-anchor="start" fill="#111" >108.0</text>
<text x="211.1" y="431.8" font-size="3.7" font-weight="bold" text-anchor="start" fill="#111" >107.4</text>
<text x="294.1" y="391.0" font-size="3.7" font-weight="bold" text-anchor="start" fill="#111" >116.7</text>
<text x="129.1" y="428.2" font-size="3.7" font-weight="bold" text-anchor="start" fill="#111" >108.2</text>
<text x="211.1" y="453.2" font-size="3.7" font-weight="bold" text-anchor="start" fill="#111" >102.5</text>
<text x="294.1" y="466.9" font-size="3.7" font-weight="bold" text-anchor="start" fill="#111" >99.4</text>
<text x="129.1" y="437.5" font-size="3.7" font-weight="bold" text-anchor="start" fill="#111" >106.1</text>
<text x="211.1" y="453.5" font-size="3.7" font-weight="bold" text-anchor="start" fill="#111" >102.5</text>
<text x="294.1" y="440.4" font-size="3.7" font-weight="bold" text-anchor="start" fill="#111" >105.4</text>
<text x="129.1" y="442.2" font-size="3.7" font-weight="bold" text-anchor="start" fill="#111" >105.0</text>
<text x="211.1" y="436.2" font-size="3.7" font-weight="bold" text-anchor="start" fill="#111" >106.4</text>
<text x="294.1" y="414.2" font-size="3.7" font-weight="bold" text-anchor="start" fill="#111" >111.4</text>
<text x="129.1" y="447.6" font-size="3.7" font-weight="bold" text-anchor="start" fill="#111" >103.8</text>
<text x="211.1" y="441.2" font-size="3.7" font-weight="bold" text-anchor="start" fill="#111" >105.2</text>
<text x="294.1" y="434.2" font-size="3.7" font-weight="bold" text-anchor="start" fill="#111" >106.8</text>
<text x="129.1" y="453.2" font-size="3.7" font-weight="bold" text-anchor="start" fill="#111" >102.5</text>
<text x="211.1" y="443.2" font-size="3.7" font-weight="bold" text-anchor="start" fill="#111" >104.8</text>
<text x="294.1" y="401.3" font-size="3.7" font-weight="bold" text-anchor="start" fill="#111" >114.3</text>
<text x="129.1" y="456.2" font-size="3.7" font-weight="bold" text-anchor="start" fill="#111" >101.8</text>
<text x="211.1" y="445.2" font-size="3.7" font-weight="bold" text-anchor="start" fill="#111" >104.3</text>
<text x="294.1" y="412.2" font-size="3.7" font-weight="bold" text-anchor="start" fill="#111" >111.8</text>
<text x="129.1" y="451.2" font-size="3.7" font-weight="bold" text-anchor="start" fill="#111" >103.0</text>
<text x="211.1" y="439.2" font-size="3.7" font-weight="bold" text-anchor="start" fill="#111" >105.7</text>
<text x="294.1" y="415.1" font-size="3.7" font-weight="bold" text-anchor="start" fill="#111" >111.2</text>
<text x="129.1" y="464.5" font-size="3.7" font-weight="bold" text-anchor="start" fill="#111" >100.0</text>
<text x="211.1" y="448.2" font-size="3.7" font-weight="bold" text-anchor="start" fill="#111" >103.7</text>
<text x="294.1" y="460.1" font-size="3.7" font-weight="bold" text-anchor="start" fill="#111" >101.0</text>
<text x="129.1" y="459.2" font-size="3.7" font-weight="bold" text-anchor="start" fill="#111" >101.2</text>
<text x="211.1" y="451.2" font-size="3.7" font-weight="bold" text-anchor="start" fill="#111" >103.0</text>
<text x="294.1" y="448.1" font-size="3.7" font-weight="bold" text-anchor="start" fill="#111" >103.7</text>
<text x="129.1" y="458.2" font-size="3.7" font-weight="bold" text-anchor="start" fill="#111" >101.4</text>
<text x="211.1" y="449.2" font-size="3.7" font-weight="bold" text-anchor="start" fill="#111" >103.4</text>
<text x="294.1" y="448.1" font-size="3.7" font-weight="bold" text-anchor="start" fill="#111" >103.7</text>
<text x="129.1" y="457.2" font-size="3.7" font-weight="bold" text-anchor="start" fill="#111" >101.6</text>
<text x="211.1" y="446.2" font-size="3.7" font-weight="bold" text-anchor="start" fill="#111" >104.1</text>
<text x="294.1" y="431.2" font-size="3.7" font-weight="bold" text-anchor="start" fill="#111" >107.5</text>
<text x="129.1" y="456.2" font-size="3.7" font-weight="bold" text-anchor="start" fill="#111" >101.8</text>
<text x="211.1" y="448.2" font-size="3.7" font-weight="bold" text-anchor="start" fill="#111" >103.7</text>
<text x="294.1" y="441.2" font-size="3.7" font-weight="bold" text-anchor="start" fill="#111" >105.2</text>
<text x="129.1" y="459.2" font-size="3.7" font-weight="bold" text-anchor="start" fill="#111" >101.2</text>
<text x="211.1" y="443.2" font-size="3.7" font-weight="bold" text-anchor="start" fill="#111" >104.8</text>
<text x="294.1" y="428.2" font-size="3.7" font-weight="bold" text-anchor="start" fill="#111" >108.2</text>
<text x="129.1" y="461.2" font-size="3.7" font-weight="bold" text-anchor="start" fill="#111" >100.7</text>
<text x="211.1" y="450.2" font-size="3.7" font-weight="bold" text-anchor="start" fill="#111" >103.2</text>
<text x="294.1" y="436.2" font-size="3.7" font-weight="bold" text-anchor="start" fill="#111" >106.4</text>
<text x="129.1" y="460.2" font-size="3.7" font-weight="bold" text-anchor="start" fill="#111" >100.9</text>
<text x="211.1" y="442.2" font-size="3.7" font-weight="bold" text-anchor="start" fill="#111" >105.0</text>
<text x="294.1" y="432.2" font-size="3.7" font-weight="bold" text-anchor="start" fill="#111" >107.3</text>
<rect x="40.7" y="460.6" width="5" height="4" fill="#b7dee8"/>
<line x1="44.2" y1="462.6" x2="49.2" y2="462.6" stroke="#000" stroke-width="1.6" />
<line x1="29.4" y1="357.1" x2="37.4" y2="357.1" stroke="#4f81bd" stroke-width="1.3" />
<rect x="32.5" y="356.2" width="1.8" height="1.8" fill="#4f81bd" opacity="0.8"/>
<text transform="translate(37.6,358.55) scale(1.16,1)" font-size="4.0" font-weight="bold" fill="#222">β-actin</text>
<line x1="29.4" y1="362.5" x2="37.4" y2="362.5" stroke="#c0504d" stroke-width="1.3" />
<rect x="32.5" y="361.6" width="1.8" height="1.8" fill="#c0504d" opacity="0.8"/>
<text transform="translate(37.6,363.93) scale(1.16,1)" font-size="4.0" font-weight="bold" fill="#222">α-tubulin</text>
<line x1="29.4" y1="367.9" x2="37.4" y2="367.9" stroke="#77933c" stroke-width="1.3" />
<rect x="32.5" y="367.0" width="1.8" height="1.8" fill="#77933c" opacity="0.8"/>
<text transform="translate(37.6,369.31) scale(1.16,1)" font-size="4.0" font-weight="bold" fill="#222">GAPDH</text>
<line x1="29.4" y1="373.2" x2="37.4" y2="373.2" stroke="#ff00ff" stroke-width="1.3" />
<rect x="32.5" y="372.3" width="1.8" height="1.8" fill="#ff00ff" opacity="0.8"/>
<text transform="translate(37.6,374.69) scale(1.16,1)" font-size="4.0" font-weight="bold" fill="#222">p53</text>
<line x1="29.4" y1="378.6" x2="37.4" y2="378.6" stroke="#ffc000" stroke-width="1.3" />
<rect x="32.5" y="377.7" width="1.8" height="1.8" fill="#ffc000" opacity="0.8"/>
<text transform="translate(37.6,380.07) scale(1.16,1)" font-size="4.0" font-weight="bold" fill="#222">BAD</text>
<line x1="29.4" y1="384.0" x2="37.4" y2="384.0" stroke="#1f497d" stroke-width="1.3" />
<rect x="32.5" y="383.1" width="1.8" height="1.8" fill="#1f497d" opacity="0.8"/>
<text transform="translate(37.6,385.45) scale(1.16,1)" font-size="4.0" font-weight="bold" fill="#222">BID</text>
<line x1="29.4" y1="389.4" x2="37.4" y2="389.4" stroke="#00b050" stroke-width="1.3" />
<rect x="32.5" y="388.5" width="1.8" height="1.8" fill="#00b050" opacity="0.8"/>
<text transform="translate(37.6,390.83) scale(1.16,1)" font-size="4.0" font-weight="bold" fill="#222">BAK</text>
<line x1="29.4" y1="394.8" x2="37.4" y2="394.8" stroke="#7030a0" stroke-width="1.3" />
<rect x="32.5" y="393.9" width="1.8" height="1.8" fill="#7030a0" opacity="0.8"/>
<text transform="translate(37.6,396.21) scale(1.16,1)" font-size="4.0" font-weight="bold" fill="#222">PUMA</text>
<line x1="29.4" y1="400.1" x2="37.4" y2="400.1" stroke="#002060" stroke-width="1.3" />
<rect x="32.5" y="399.2" width="1.8" height="1.8" fill="#002060" opacity="0.8"/>
<text transform="translate(37.6,401.59) scale(1.16,1)" font-size="4.0" font-weight="bold" fill="#222">NOXA</text>
<line x1="29.4" y1="405.5" x2="37.4" y2="405.5" stroke="#ff0000" stroke-width="1.3" />
<rect x="32.5" y="404.6" width="1.8" height="1.8" fill="#ff0000" opacity="0.8"/>
<text transform="translate(37.6,406.97) scale(1.16,1)" font-size="4.0" font-weight="bold" fill="#222">BAX</text>
<line x1="29.4" y1="410.9" x2="37.4" y2="410.9" stroke="#31859c" stroke-width="1.3" />
<rect x="32.5" y="410.0" width="1.8" height="1.8" fill="#31859c" opacity="0.8"/>
<text transform="translate(37.6,412.35) scale(1.16,1)" font-size="4.0" font-weight="bold" fill="#222">APAF-1</text>
<line x1="29.4" y1="416.3" x2="37.4" y2="416.3" stroke="#31859c" stroke-width="1.3" />
<rect x="32.5" y="415.4" width="1.8" height="1.8" fill="#31859c" opacity="0.8"/>
<text transform="translate(37.6,417.73) scale(1.16,1)" font-size="4.0" font-weight="bold" fill="#222">caspase 9</text>
<line x1="29.4" y1="421.7" x2="37.4" y2="421.7" stroke="#00b0f0" stroke-width="1.3" />
<rect x="32.5" y="420.8" width="1.8" height="1.8" fill="#00b0f0" opacity="0.8"/>
<text transform="translate(37.6,423.11) scale(1.16,1)" font-size="4.0" font-weight="bold" fill="#222">c-caspase 9</text>
<line x1="29.4" y1="427.0" x2="37.4" y2="427.0" stroke="#92d050" stroke-width="1.3" />
<rect x="32.5" y="426.1" width="1.8" height="1.8" fill="#92d050" opacity="0.8"/>
<text transform="translate(37.6,428.49) scale(1.16,1)" font-size="4.0" font-weight="bold" fill="#222">caspase 3</text>
<line x1="29.4" y1="432.4" x2="37.4" y2="432.4" stroke="#8064a2" stroke-width="1.3" />
<rect x="32.5" y="431.5" width="1.8" height="1.8" fill="#8064a2" opacity="0.8"/>
<text transform="translate(37.6,433.87) scale(1.16,1)" font-size="4.0" font-weight="bold" fill="#222">c-caspase 3</text>
<line x1="62.0" y1="358.1" x2="70.0" y2="358.1" stroke="#c3d69b" stroke-width="1.3" />
<rect x="65.1" y="357.2" width="1.8" height="1.8" fill="#c3d69b" opacity="0.8"/>
<text transform="translate(70.2,359.55) scale(1.16,1)" font-size="4.0" font-weight="bold" fill="#222">AIF</text>
<line x1="62.0" y1="363.5" x2="70.0" y2="363.5" stroke="#c00000" stroke-width="1.3" />
<rect x="65.1" y="362.6" width="1.8" height="1.8" fill="#c00000" opacity="0.8"/>
<text transform="translate(70.2,364.93) scale(1.16,1)" font-size="4.0" font-weight="bold" fill="#222">PARP</text>
<line x1="62.0" y1="368.9" x2="70.0" y2="368.9" stroke="#f79646" stroke-width="1.3" />
<rect x="65.1" y="368.0" width="1.8" height="1.8" fill="#f79646" opacity="0.8"/>
<text transform="translate(70.2,370.31) scale(1.16,1)" font-size="4.0" font-weight="bold" fill="#222">c-PARP</text>
<line x1="62.0" y1="374.2" x2="70.0" y2="374.2" stroke="#7f7f7f" stroke-width="1.3" />
<rect x="65.1" y="373.3" width="1.8" height="1.8" fill="#7f7f7f" opacity="0.8"/>
<text transform="translate(70.2,375.69) scale(1.16,1)" font-size="4.0" font-weight="bold" fill="#222">BCL2</text>
<line x1="62.0" y1="379.6" x2="70.0" y2="379.6" stroke="#e6b9b8" stroke-width="1.3" />
<rect x="65.1" y="378.7" width="1.8" height="1.8" fill="#e6b9b8" opacity="0.8"/>
<text transform="translate(70.2,381.07) scale(1.16,1)" font-size="4.0" font-weight="bold" fill="#222">MDM2</text>
<line x1="62.0" y1="385.0" x2="70.0" y2="385.0" stroke="#f79646" stroke-width="1.3" />
<rect x="65.1" y="384.1" width="1.8" height="1.8" fill="#f79646" opacity="0.8"/>
<text transform="translate(70.2,386.45) scale(1.16,1)" font-size="4.0" font-weight="bold" fill="#222">ATM</text>
<rect x="10.5" y="525.5" width="302.0" height="154.0" fill="none" stroke="#808080" stroke-width="0.9"/>
<line x1="10.5" y1="586.7" x2="312.5" y2="586.7" stroke="#808080" stroke-width="0.9" />
<line x1="10.5" y1="648.3" x2="312.5" y2="648.3" stroke="#808080" stroke-width="0.9" />
<text x="12.6" y="591.7" font-size="5.4" font-weight="bold" text-anchor="start" fill="#222" >+5%</text>
<text x="12.6" y="647.5" font-size="5.4" font-weight="bold" text-anchor="start" fill="#222" >-5%</text>
<text x="1.2" y="526.4" font-size="3.7" font-weight="bold" fill="#333" textLength="7.5" lengthAdjust="spacingAndGlyphs">115</text>
<text x="1.2" y="557.2" font-size="3.7" font-weight="bold" fill="#333" textLength="7.5" lengthAdjust="spacingAndGlyphs">110</text>
<text x="1.2" y="588.0" font-size="3.7" font-weight="bold" fill="#333" textLength="7.5" lengthAdjust="spacingAndGlyphs">105</text>
<text x="1.2" y="618.8" font-size="3.7" font-weight="bold" fill="#333" textLength="7.5" lengthAdjust="spacingAndGlyphs">100</text>
<text x="3.7" y="649.6" font-size="3.7" font-weight="bold" fill="#333" textLength="5.0" lengthAdjust="spacingAndGlyphs">95</text>
<text x="3.7" y="680.4" font-size="3.7" font-weight="bold" fill="#333" textLength="5.0" lengthAdjust="spacingAndGlyphs">90</text>
<text x="8.6" y="531.7" font-size="5.2" font-weight="bold" text-anchor="end" fill="#333" >%</text>
<text x="14.0" y="535.0" font-size="8.4" font-weight="bold" text-anchor="start" fill="#111" textLength="10" lengthAdjust="spacingAndGlyphs">D1</text>
<text x="309.5" y="531.8" font-size="5.8" text-anchor="end" fill="#222" font-weight="bold"><tspan font-style="italic">p</tspan> &lt; 0.0263</text>
<text x="43.2" y="684.1" font-size="4.4" font-weight="bold" text-anchor="middle" fill="#222" >control</text>
<text x="125.5" y="684.1" font-size="4.4" font-weight="bold" text-anchor="middle" fill="#222" >8H</text>
<text x="207.5" y="684.1" font-size="4.4" font-weight="bold" text-anchor="middle" fill="#222" >16H</text>
<text x="290.5" y="684.1" font-size="4.4" font-weight="bold" text-anchor="middle" fill="#222" >24H</text>
<line x1="125.5" y1="584.9" x2="125.5" y2="663.7" stroke="#5a5a5a" stroke-width="0.75" />
<line x1="124.6" y1="584.9" x2="126.4" y2="584.9" stroke="#555" stroke-width="0.5" />
<line x1="124.6" y1="598.0" x2="126.4" y2="598.0" stroke="#555" stroke-width="0.5" />
<line x1="124.6" y1="611.1" x2="126.4" y2="611.1" stroke="#555" stroke-width="0.5" />
<line x1="124.6" y1="624.3" x2="126.4" y2="624.3" stroke="#555" stroke-width="0.5" />
<line x1="124.6" y1="637.4" x2="126.4" y2="637.4" stroke="#555" stroke-width="0.5" />
<line x1="124.6" y1="650.6" x2="126.4" y2="650.6" stroke="#555" stroke-width="0.5" />
<line x1="124.6" y1="663.7" x2="126.4" y2="663.7" stroke="#555" stroke-width="0.5" />
<line x1="207.5" y1="565.8" x2="207.5" y2="658.8" stroke="#5a5a5a" stroke-width="0.75" />
<line x1="206.6" y1="565.8" x2="208.4" y2="565.8" stroke="#555" stroke-width="0.5" />
<line x1="206.6" y1="581.3" x2="208.4" y2="581.3" stroke="#555" stroke-width="0.5" />
<line x1="206.6" y1="596.8" x2="208.4" y2="596.8" stroke="#555" stroke-width="0.5" />
<line x1="206.6" y1="612.3" x2="208.4" y2="612.3" stroke="#555" stroke-width="0.5" />
<line x1="206.6" y1="627.8" x2="208.4" y2="627.8" stroke="#555" stroke-width="0.5" />
<line x1="206.6" y1="643.3" x2="208.4" y2="643.3" stroke="#555" stroke-width="0.5" />
<line x1="206.6" y1="658.8" x2="208.4" y2="658.8" stroke="#555" stroke-width="0.5" />
<line x1="290.5" y1="536.2" x2="290.5" y2="656.9" stroke="#5a5a5a" stroke-width="0.75" />
<line x1="289.6" y1="536.2" x2="291.4" y2="536.2" stroke="#555" stroke-width="0.5" />
<line x1="289.6" y1="556.3" x2="291.4" y2="556.3" stroke="#555" stroke-width="0.5" />
<line x1="289.6" y1="576.4" x2="291.4" y2="576.4" stroke="#555" stroke-width="0.5" />
<line x1="289.6" y1="596.6" x2="291.4" y2="596.6" stroke="#555" stroke-width="0.5" />
<line x1="289.6" y1="616.7" x2="291.4" y2="616.7" stroke="#555" stroke-width="0.5" />
<line x1="289.6" y1="636.8" x2="291.4" y2="636.8" stroke="#555" stroke-width="0.5" />
<line x1="289.6" y1="656.9" x2="291.4" y2="656.9" stroke="#555" stroke-width="0.5" />
<polyline points="43.2,617.7 125.5,597.1 207.5,591.0 290.5,595.7" fill="none" stroke="#9bbb59" stroke-width="0.8" stroke-linejoin="round" />
<polyline points="43.2,617.7 125.5,608.4 207.5,598.5 290.5,595.7" fill="none" stroke="#4f81bd" stroke-width="0.8" stroke-linejoin="round" />
<polyline points="43.2,617.7 125.5,609.0 207.5,596.0 290.5,587.3" fill="none" stroke="#c0504d" stroke-width="0.8" stroke-linejoin="round" />
<polyline points="43.2,617.7 125.5,603.1 207.5,633.7 290.5,635.1" fill="none" stroke="#00b050" stroke-width="1.5" stroke-linejoin="round" />
<polyline points="43.2,617.7 125.5,636.1 207.5,619.0 290.5,640.1" fill="none" stroke="#00b0f0" stroke-width="1.5" stroke-linejoin="round" />
<polyline points="43.2,617.7 125.5,647.0 207.5,638.7 290.5,643.0" fill="none" stroke="#0070c0" stroke-width="1.5" stroke-linejoin="round" />
<polyline points="43.2,617.7 125.5,639.8 207.5,595.0 290.5,555.9" fill="none" stroke="#ff0000" stroke-width="1.6" stroke-linejoin="round" />
<polyline points="43.2,617.7 125.5,618.8 207.5,604.4 290.5,612.9" fill="none" stroke="#e46c0a" stroke-width="1.5" stroke-linejoin="round" />
<polyline points="43.2,617.7 125.5,601.9 207.5,609.2 290.5,621.8" fill="none" stroke="#f79646" stroke-width="1.5" stroke-linejoin="round" />
<polyline points="43.2,617.7 125.5,612.8 207.5,589.5 290.5,585.3" fill="none" stroke="#ff00ff" stroke-width="1.6" stroke-linejoin="round" />
<polyline points="43.2,617.7 125.5,615.9 207.5,593.2 290.5,578.8" fill="none" stroke="#c00000" stroke-width="1.5" stroke-linejoin="round" />
<circle cx="125.5" cy="597.1" r="1.3" fill="#9bbb59"/>
<circle cx="207.5" cy="591.0" r="1.3" fill="#9bbb59"/>
<circle cx="290.5" cy="595.7" r="1.3" fill="#9bbb59"/>
<rect x="124.3" y="607.2" width="2.4" height="2.4" fill="#4f81bd"/>
<rect x="206.3" y="597.3" width="2.4" height="2.4" fill="#4f81bd"/>
<rect x="289.3" y="594.5" width="2.4" height="2.4" fill="#4f81bd"/>
<circle cx="125.5" cy="603.1" r="1.3" fill="#00b050"/>
<circle cx="207.5" cy="633.7" r="1.3" fill="#00b050"/>
<circle cx="290.5" cy="635.1" r="1.3" fill="#00b050"/>
<rect x="124.3" y="634.9" width="2.4" height="2.4" fill="#00b0f0"/>
<rect x="206.3" y="617.8" width="2.4" height="2.4" fill="#00b0f0"/>
<rect x="289.3" y="638.9" width="2.4" height="2.4" fill="#00b0f0"/>
<circle cx="125.5" cy="639.8" r="1.3" fill="#ff0000"/>
<circle cx="207.5" cy="595.0" r="1.3" fill="#ff0000"/>
<circle cx="290.5" cy="555.9" r="1.3" fill="#ff0000"/>
<rect x="124.3" y="617.6" width="2.4" height="2.4" fill="#e46c0a"/>
<rect x="206.3" y="603.2" width="2.4" height="2.4" fill="#e46c0a"/>
<rect x="289.3" y="611.7" width="2.4" height="2.4" fill="#e46c0a"/>
<circle cx="125.5" cy="612.8" r="1.3" fill="#ff00ff"/>
<circle cx="207.5" cy="589.5" r="1.3" fill="#ff00ff"/>
<circle cx="290.5" cy="585.3" r="1.3" fill="#ff00ff"/>
<rect x="124.3" y="614.7" width="2.4" height="2.4" fill="#c00000"/>
<rect x="206.3" y="592.0" width="2.4" height="2.4" fill="#c00000"/>
<rect x="289.3" y="577.6" width="2.4" height="2.4" fill="#c00000"/>
<circle cx="125.5" cy="647.0" r="2.0" fill="#f79646"/>
<circle cx="207.5" cy="638.7" r="2.0" fill="#f79646"/>
<circle cx="290.5" cy="643.0" r="2.0" fill="#f79646"/>
<rect x="123.4" y="613.8" width="4.2" height="4.2" fill="#93cddd"/>
<rect x="205.4" y="591.1" width="4.2" height="4.2" fill="#93cddd"/>
<rect x="288.4" y="576.7" width="4.2" height="4.2" fill="#93cddd"/>
<rect x="124.5" y="611.8" width="2.0" height="2.0" fill="#b3a2c7" transform="rotate(45 125.5 612.8)"/>
<rect x="206.5" y="588.5" width="2.0" height="2.0" fill="#b3a2c7" transform="rotate(45 207.5 589.5)"/>
<rect x="289.5" y="584.3" width="2.0" height="2.0" fill="#b3a2c7" transform="rotate(45 290.5 585.3)"/>
<text x="129.1" y="598.3" font-size="3.7" font-weight="bold" text-anchor="start" fill="#111" >103.3</text>
<text x="211.1" y="592.2" font-size="3.7" font-weight="bold" text-anchor="start" fill="#111" >104.3</text>
<text x="294.1" y="596.9" font-size="3.7" font-weight="bold" text-anchor="start" fill="#111" >103.5</text>
<text x="129.1" y="609.6" font-size="3.7" font-weight="bold" text-anchor="start" fill="#111" >101.5</text>
<text x="211.1" y="599.7" font-size="3.7" font-weight="bold" text-anchor="start" fill="#111" >103.1</text>
<text x="294.1" y="596.9" font-size="3.7" font-weight="bold" text-anchor="start" fill="#111" >103.5</text>
<text x="129.1" y="610.2" font-size="3.7" font-weight="bold" text-anchor="start" fill="#111" >101.4</text>
<text x="211.1" y="597.2" font-size="3.7" font-weight="bold" text-anchor="start" fill="#111" >103.5</text>
<text x="294.1" y="588.5" font-size="3.7" font-weight="bold" text-anchor="start" fill="#111" >104.9</text>
<text x="129.1" y="604.3" font-size="3.7" font-weight="bold" text-anchor="start" fill="#111" >102.3</text>
<text x="211.1" y="634.9" font-size="3.7" font-weight="bold" text-anchor="start" fill="#111" >97.4</text>
<text x="294.1" y="636.3" font-size="3.7" font-weight="bold" text-anchor="start" fill="#111" >97.1</text>
<text x="129.1" y="637.3" font-size="3.7" font-weight="bold" text-anchor="start" fill="#111" >97.0</text>
<text x="211.1" y="620.2" font-size="3.7" font-weight="bold" text-anchor="start" fill="#111" >99.8</text>
<text x="294.1" y="641.3" font-size="3.7" font-weight="bold" text-anchor="start" fill="#111" >96.3</text>
<text x="129.1" y="648.2" font-size="3.7" font-weight="bold" text-anchor="start" fill="#111" >95.2</text>
<text x="211.1" y="639.9" font-size="3.7" font-weight="bold" text-anchor="start" fill="#111" >96.6</text>
<text x="294.1" y="644.2" font-size="3.7" font-weight="bold" text-anchor="start" fill="#111" >95.9</text>
<text x="129.1" y="641.0" font-size="3.7" font-weight="bold" text-anchor="start" fill="#111" >96.4</text>
<text x="211.1" y="596.2" font-size="3.7" font-weight="bold" text-anchor="start" fill="#111" >103.7</text>
<text x="294.1" y="557.1" font-size="3.7" font-weight="bold" text-anchor="start" fill="#111" >110.0</text>
<text x="129.1" y="620.0" font-size="3.7" font-weight="bold" text-anchor="start" fill="#111" >99.8</text>
<text x="211.1" y="605.6" font-size="3.7" font-weight="bold" text-anchor="start" fill="#111" >102.1</text>
<text x="294.1" y="614.1" font-size="3.7" font-weight="bold" text-anchor="start" fill="#111" >100.7</text>
<text x="129.1" y="603.1" font-size="3.7" font-weight="bold" text-anchor="start" fill="#111" >102.5</text>
<text x="211.1" y="610.4" font-size="3.7" font-weight="bold" text-anchor="start" fill="#111" >101.3</text>
<text x="294.1" y="623.0" font-size="3.7" font-weight="bold" text-anchor="start" fill="#111" >99.3</text>
<text x="129.1" y="614.0" font-size="3.7" font-weight="bold" text-anchor="start" fill="#111" >100.8</text>
<text x="211.1" y="590.7" font-size="3.7" font-weight="bold" text-anchor="start" fill="#111" >104.5</text>
<text x="294.1" y="586.5" font-size="3.7" font-weight="bold" text-anchor="start" fill="#111" >105.2</text>
<text x="129.1" y="617.1" font-size="3.7" font-weight="bold" text-anchor="start" fill="#111" >100.3</text>
<text x="211.1" y="594.4" font-size="3.7" font-weight="bold" text-anchor="start" fill="#111" >103.9</text>
<text x="294.1" y="580.0" font-size="3.7" font-weight="bold" text-anchor="start" fill="#111" >106.3</text>
<rect x="40.7" y="615.7" width="5" height="4" fill="#b7dee8"/>
<line x1="44.2" y1="617.7" x2="49.2" y2="617.7" stroke="#000" stroke-width="1.6" />
<line x1="29.2" y1="530.4" x2="37.2" y2="530.4" stroke="#4f81bd" stroke-width="1.3" />
<rect x="32.3" y="529.5" width="1.8" height="1.8" fill="#4f81bd" opacity="0.8"/>
<text transform="translate(37.4,531.85) scale(1.16,1)" font-size="4.0" font-weight="bold" fill="#222">β-actin</text>
<line x1="29.2" y1="535.5" x2="37.2" y2="535.5" stroke="#c0504d" stroke-width="1.3" />
<rect x="32.3" y="534.6" width="1.8" height="1.8" fill="#c0504d" opacity="0.8"/>
<text transform="translate(37.4,536.91) scale(1.16,1)" font-size="4.0" font-weight="bold" fill="#222">α-tubulin</text>
<line x1="29.2" y1="540.5" x2="37.2" y2="540.5" stroke="#9bbb59" stroke-width="1.3" />
<rect x="32.3" y="539.6" width="1.8" height="1.8" fill="#9bbb59" opacity="0.8"/>
<text transform="translate(37.4,541.97) scale(1.16,1)" font-size="4.0" font-weight="bold" fill="#222">GAPDH</text>
<line x1="29.2" y1="545.6" x2="37.2" y2="545.6" stroke="#00b050" stroke-width="1.3" />
<rect x="32.3" y="544.7" width="1.8" height="1.8" fill="#00b050" opacity="0.8"/>
<text transform="translate(37.4,547.03) scale(1.16,1)" font-size="4.0" font-weight="bold" fill="#222">FASL</text>
<line x1="29.2" y1="550.6" x2="37.2" y2="550.6" stroke="#00b0f0" stroke-width="1.3" />
<rect x="32.3" y="549.7" width="1.8" height="1.8" fill="#00b0f0" opacity="0.8"/>
<text transform="translate(37.4,552.09) scale(1.16,1)" font-size="4.0" font-weight="bold" fill="#222">FAS</text>
<line x1="29.2" y1="555.7" x2="37.2" y2="555.7" stroke="#0070c0" stroke-width="1.3" />
<rect x="32.3" y="554.8" width="1.8" height="1.8" fill="#0070c0" opacity="0.8"/>
<text transform="translate(37.4,557.15) scale(1.16,1)" font-size="4.0" font-weight="bold" fill="#222">FADD</text>
<line x1="29.2" y1="560.8" x2="37.2" y2="560.8" stroke="#ff0000" stroke-width="1.3" />
<rect x="32.3" y="559.9" width="1.8" height="1.8" fill="#ff0000" opacity="0.8"/>
<text transform="translate(37.4,562.21) scale(1.16,1)" font-size="4.0" font-weight="bold" fill="#222">FLIP</text>
<line x1="29.2" y1="565.8" x2="37.2" y2="565.8" stroke="#e46c0a" stroke-width="1.3" />
<rect x="32.3" y="564.9" width="1.8" height="1.8" fill="#e46c0a" opacity="0.8"/>
<text transform="translate(37.4,567.27) scale(1.16,1)" font-size="4.0" font-weight="bold" fill="#222">BID</text>
<line x1="29.2" y1="570.9" x2="37.2" y2="570.9" stroke="#f79646" stroke-width="1.3" />
<rect x="32.3" y="570.0" width="1.8" height="1.8" fill="#f79646" opacity="0.8"/>
<text transform="translate(37.4,572.33) scale(1.16,1)" font-size="4.0" font-weight="bold" fill="#222">caspase 8</text>
<line x1="29.2" y1="575.9" x2="37.2" y2="575.9" stroke="#ff00ff" stroke-width="1.3" />
<rect x="32.3" y="575.0" width="1.8" height="1.8" fill="#ff00ff" opacity="0.8"/>
<text transform="translate(37.4,577.39) scale(1.16,1)" font-size="4.0" font-weight="bold" fill="#222">caspase 3</text>
<line x1="29.2" y1="581.0" x2="37.2" y2="581.0" stroke="#c00000" stroke-width="1.3" />
<rect x="32.3" y="580.1" width="1.8" height="1.8" fill="#c00000" opacity="0.8"/>
<text transform="translate(37.4,582.45) scale(1.16,1)" font-size="4.0" font-weight="bold" fill="#222">c-caspase 3</text>
<text x="321.8" y="20.4" font-size="8.4" font-weight="bold" text-anchor="start" fill="#111" textLength="10.8" lengthAdjust="spacingAndGlyphs">A2</text>
<polygon points="412.3,79.9 416.9,81.0 420.4,84.1 422.0,88.5 421.5,93.2 418.8,97.0 414.6,99.2 410.0,99.2 405.8,97.0 403.1,93.2 402.6,88.5 404.2,84.1 407.7,81.0" fill="none" stroke="#d0d0d0" stroke-width="0.6" />
<polygon points="412.3,70.1 421.4,72.3 428.4,78.6 431.8,87.3 430.6,96.7 425.3,104.4 417.0,108.7 407.6,108.7 399.3,104.4 394.0,96.7 392.8,87.3 396.2,78.6 403.2,72.3" fill="none" stroke="#d0d0d0" stroke-width="0.6" />
<polygon points="412.3,60.3 426.0,63.7 436.5,73.0 441.5,86.2 439.8,100.1 431.8,111.7 419.3,118.2 405.3,118.2 392.8,111.7 384.8,100.1 383.1,86.2 388.1,73.0 398.6,63.7" fill="none" stroke="#d0d0d0" stroke-width="0.6" />
<polygon points="412.3,50.5 430.5,55.0 444.6,67.4 451.2,85.0 449.0,103.6 438.3,119.0 421.7,127.8 402.9,127.8 386.3,119.0 375.6,103.6 373.4,85.0 380.0,67.4 394.1,55.0" fill="none" stroke="#d0d0d0" stroke-width="0.6" />
<polygon points="412.3,40.7 435.1,46.3 452.6,61.9 460.9,83.8 458.1,107.1 444.8,126.4 424.0,137.3 400.6,137.3 379.8,126.4 366.5,107.1 363.7,83.8 372.0,61.9 389.5,46.3" fill="none" stroke="#d0d0d0" stroke-width="0.6" />
<polygon points="412.3,30.9 439.6,37.6 460.7,56.3 470.7,82.6 467.3,110.6 451.3,133.7 426.4,146.8 398.2,146.8 373.3,133.7 357.3,110.6 353.9,82.6 363.9,56.3 385.0,37.6" fill="none" stroke="#d0d0d0" stroke-width="0.6" />
<polygon points="412.3,21.1 444.2,29.0 468.8,50.7 480.4,81.4 476.4,114.0 457.8,141.0 428.7,156.3 395.9,156.3 366.8,141.0 348.2,114.0 344.2,81.4 355.8,50.7 380.4,29.0" fill="none" stroke="#d0d0d0" stroke-width="0.6" />
<text x="405.3" y="91.9" font-size="4.8" font-weight="bold" text-anchor="end" fill="#333" >70</text>
<text x="405.3" y="82.1" font-size="4.8" font-weight="bold" text-anchor="end" fill="#333" >75</text>
<text x="405.3" y="72.3" font-size="4.8" font-weight="bold" text-anchor="end" fill="#333" >80</text>
<text x="405.3" y="62.5" font-size="4.8" font-weight="bold" text-anchor="end" fill="#333" >85</text>
<text x="405.3" y="52.7" font-size="4.8" font-weight="bold" text-anchor="end" fill="#333" >90</text>
<text x="405.3" y="42.9" font-size="4.8" font-weight="bold" text-anchor="end" fill="#333" >95</text>
<text x="405.3" y="33.1" font-size="4.8" font-weight="bold" text-anchor="end" fill="#333" >100</text>
<text x="405.3" y="23.3" font-size="4.8" font-weight="bold" text-anchor="end" fill="#333" >105</text>
<polygon points="412.4,42.0 435.1,46.5 441.7,69.0 454.5,84.5 442.8,101.0 434.7,114.5 424.7,140.3 401.3,135.2 381.0,124.8 377.0,102.8 367.7,84.0 380.5,67.5 392.5,51.4" fill="none" stroke="#2f6fbf" stroke-width="1.6" stroke-dasharray="1.5 2.0" stroke-linecap="butt"/>
<circle cx="412.4" cy="42.0" r="3.5" fill="#ff00ff"/>
<circle cx="435.1" cy="46.5" r="3.5" fill="#e46c0a"/>
<circle cx="441.7" cy="69.0" r="3.5" fill="#0070c0"/>
<circle cx="454.5" cy="84.5" r="3.5" fill="#00b050"/>
<circle cx="442.8" cy="101.0" r="3.5" fill="#002060"/>
<circle cx="434.7" cy="114.5" r="3.5" fill="#7030a0"/>
<circle cx="424.7" cy="140.3" r="3.5" fill="#ff0000"/>
<circle cx="401.3" cy="135.2" r="3.5" fill="#fac090"/>
<circle cx="381.0" cy="124.8" r="3.5" fill="#c00000"/>
<circle cx="377.0" cy="102.8" r="3.5" fill="#4f6228"/>
<circle cx="367.7" cy="84.0" r="3.5" fill="#d99694"/>
<circle cx="380.5" cy="67.5" r="3.5" fill="#c3d69b"/>
<circle cx="392.5" cy="51.4" r="3.5" fill="#92d050"/>
<text x="413.3" y="16.7" font-size="4.8" font-weight="bold" text-anchor="middle" fill="#1a1a1a" >TNFα</text>
<text x="450.3" y="28.6" font-size="4.8" font-weight="bold" text-anchor="middle" fill="#1a1a1a" >IL-1</text>
<text x="475.0" y="51.3" font-size="4.8" font-weight="bold" text-anchor="middle" fill="#1a1a1a" >IL-6</text>
<text x="486.9" y="82.3" font-size="4.8" font-weight="bold" text-anchor="middle" fill="#1a1a1a" >IL-8</text>
<text x="484.0" y="116.9" font-size="4.8" font-weight="bold" text-anchor="middle" fill="#1a1a1a" >IL-10</text>
<text x="465.0" y="143.9" font-size="4.8" font-weight="bold" text-anchor="middle" fill="#1a1a1a" >IL-28</text>
<text x="437.2" y="159.8" font-size="4.8" font-weight="bold" text-anchor="middle" fill="#1a1a1a" >LTA4H</text>
<text x="389.5" y="159.8" font-size="4.8" font-weight="bold" text-anchor="middle" fill="#1a1a1a" >CD20</text>
<text x="351.7" y="143.9" font-size="4.8" font-weight="bold" text-anchor="middle" fill="#1a1a1a" >cathepsin C</text>
<text x="333.0" y="116.9" font-size="4.8" font-weight="bold" text-anchor="middle" fill="#1a1a1a" >cathepsin G</text>
<text x="329.0" y="83.1" font-size="4.8" font-weight="bold" text-anchor="middle" fill="#1a1a1a" >cathepsin K</text>
<text x="347.7" y="52.1" font-size="4.8" font-weight="bold" text-anchor="middle" fill="#1a1a1a" >α1-AT</text>
<text x="368.4" y="28.6" font-size="4.8" font-weight="bold" text-anchor="middle" fill="#1a1a1a" >lysozyme</text>
<text x="321.8" y="190.5" font-size="8.4" font-weight="bold" text-anchor="start" fill="#111" textLength="10.8" lengthAdjust="spacingAndGlyphs">B2</text>
<circle cx="411.7" cy="261" r="8.8" fill="none" stroke="#d0d0d0" stroke-width="0.6"/>
<circle cx="411.7" cy="261" r="17.6" fill="none" stroke="#d0d0d0" stroke-width="0.6"/>
<circle cx="411.7" cy="261" r="26.4" fill="none" stroke="#d0d0d0" stroke-width="0.6"/>
<circle cx="411.7" cy="261" r="35.2" fill="none" stroke="#d0d0d0" stroke-width="0.6"/>
<circle cx="411.7" cy="261" r="44.0" fill="none" stroke="#d0d0d0" stroke-width="0.6"/>
<circle cx="411.7" cy="261" r="52.8" fill="none" stroke="#d0d0d0" stroke-width="0.6"/>
<circle cx="411.7" cy="261" r="61.6" fill="none" stroke="#d0d0d0" stroke-width="0.6"/>
<circle cx="411.7" cy="261" r="70.4" fill="none" stroke="#d0d0d0" stroke-width="0.6"/>
<text x="404.6" y="263.2" font-size="4.8" font-weight="bold" text-anchor="end" fill="#333" >80</text>
<text x="404.6" y="254.4" font-size="4.8" font-weight="bold" text-anchor="end" fill="#333" >85</text>
<text x="404.6" y="245.6" font-size="4.8" font-weight="bold" text-anchor="end" fill="#333" >90</text>
<text x="404.6" y="236.8" font-size="4.8" font-weight="bold" text-anchor="end" fill="#333" >95</text>
<text x="404.6" y="228.0" font-size="4.8" font-weight="bold" text-anchor="end" fill="#333" >100</text>
<text x="404.6" y="219.2" font-size="4.8" font-weight="bold" text-anchor="end" fill="#333" >105</text>
<text x="404.6" y="210.4" font-size="4.8" font-weight="bold" text-anchor="end" fill="#333" >110</text>
<text x="404.6" y="201.6" font-size="4.8" font-weight="bold" text-anchor="end" fill="#333" >115</text>
<text x="404.6" y="192.8" font-size="4.8" font-weight="bold" text-anchor="end" fill="#333" >120</text>
<polygon points="410.6,214.9 421.9,214.5 428.7,225.8 437.1,230.1 442.4,238.6 446.0,247.5 447.7,256.4 453.3,265.5 464.0,281.4 456.5,292.7 452.7,307.0 432.7,302.9 420.6,302.9 410.0,302.9 399.5,306.7 384.4,312.3 374.2,302.1 373.0,286.0 375.4,274.0 370.6,265.5 371.3,255.9 376.6,248.0 375.7,236.6 379.3,225.0 386.5,215.4 399.0,212.5" fill="none" stroke="#2f6fbf" stroke-width="1.6" stroke-dasharray="1.5 2.0" stroke-linecap="butt"/>
<circle cx="410.6" cy="214.9" r="3.5" fill="#8064a2"/>
<circle cx="421.9" cy="214.5" r="3.5" fill="#0070c0"/>
<circle cx="428.7" cy="225.8" r="3.5" fill="#002060"/>
<circle cx="437.1" cy="230.1" r="3.5" fill="#376092"/>
<circle cx="442.4" cy="238.6" r="3.5" fill="#984807"/>
<circle cx="446.0" cy="247.5" r="3.5" fill="#93cddd"/>
<circle cx="447.7" cy="256.4" r="3.5" fill="#7030a0"/>
<circle cx="453.3" cy="265.5" r="3.5" fill="#77933c"/>
<circle cx="464.0" cy="281.4" r="3.5" fill="#ff00ff"/>
<circle cx="456.5" cy="292.7" r="3.5" fill="#ffc000"/>
<circle cx="452.7" cy="307.0" r="3.5" fill="#ff0000"/>
<circle cx="432.7" cy="302.9" r="3.5" fill="#e46c0a"/>
<circle cx="420.6" cy="302.9" r="3.5" fill="#8064a2"/>
<circle cx="410.0" cy="302.9" r="3.5" fill="#a5a5a5"/>
<circle cx="399.5" cy="306.7" r="3.5" fill="#00b050"/>
<circle cx="384.4" cy="312.3" r="3.5" fill="#c00000"/>
<circle cx="374.2" cy="302.1" r="3.5" fill="#f79646"/>
<circle cx="373.0" cy="286.0" r="3.5" fill="#c3d69b"/>
<circle cx="375.4" cy="274.0" r="3.5" fill="#7f7f7f"/>
<circle cx="370.6" cy="265.5" r="3.5" fill="#ffc000"/>
<circle cx="371.3" cy="255.9" r="3.5" fill="#9bbb59"/>
<circle cx="376.6" cy="248.0" r="3.5" fill="#b9cde5"/>
<circle cx="375.7" cy="236.6" r="3.5" fill="#e6b9b8"/>
<circle cx="379.3" cy="225.0" r="3.5" fill="#92d050"/>
<circle cx="386.5" cy="215.4" r="3.5" fill="#fac090"/>
<circle cx="399.0" cy="212.5" r="3.5" fill="#f2dcdb"/>
<text x="410.0" y="184.8" font-size="5.1" font-weight="bold" text-anchor="middle" fill="#1a1a1a" >IL-12</text>
<text x="432.7" y="190.5" font-size="5.1" font-weight="bold" text-anchor="middle" fill="#1a1a1a" >CD3</text>
<text x="451.6" y="198.0" font-size="5.1" font-weight="bold" text-anchor="middle" fill="#1a1a1a" >CD28</text>
<text x="464.8" y="208.2" font-size="5.1" font-weight="bold" text-anchor="middle" fill="#1a1a1a" >CD31</text>
<text x="476.1" y="220.7" font-size="5.1" font-weight="bold" text-anchor="middle" fill="#1a1a1a" >CD40</text>
<text x="484.4" y="235.8" font-size="5.1" font-weight="bold" text-anchor="middle" fill="#1a1a1a" >CD56</text>
<text x="488.2" y="252.8" font-size="5.1" font-weight="bold" text-anchor="middle" fill="#1a1a1a" >CD99</text>
<text x="489.3" y="271.6" font-size="5.1" font-weight="bold" text-anchor="middle" fill="#1a1a1a" >CD80</text>
<text x="486.7" y="288.6" font-size="5.1" font-weight="bold" text-anchor="middle" fill="#1a1a1a" >CD34</text>
<text x="479.9" y="304.5" font-size="5.1" font-weight="bold" text-anchor="middle" fill="#1a1a1a" >CD68</text>
<text x="470.4" y="316.9" font-size="5.1" font-weight="bold" text-anchor="middle" fill="#1a1a1a" >M-CSF</text>
<text x="453.5" y="326.4" font-size="5.1" font-weight="bold" text-anchor="middle" fill="#1a1a1a" >MMP-1</text>
<text x="436.5" y="333.9" font-size="5.1" font-weight="bold" text-anchor="middle" fill="#1a1a1a" >MMP-2</text>
<text x="410.0" y="338.8" font-size="5.1" font-weight="bold" text-anchor="middle" fill="#1a1a1a" >MMP-3</text>
<text x="383.6" y="333.9" font-size="5.1" font-weight="bold" text-anchor="middle" fill="#1a1a1a" >MMP-9</text>
<text x="366.6" y="326.4" font-size="5.1" font-weight="bold" text-anchor="middle" fill="#1a1a1a" >MMP-10</text>
<text x="348.9" y="316.9" font-size="5.1" font-weight="bold" text-anchor="middle" fill="#1a1a1a" >MMP-12</text>
<text x="342.1" y="303.7" font-size="5.1" font-weight="bold" text-anchor="middle" fill="#1a1a1a" >TIMP-1</text>
<text x="334.5" y="287.9" font-size="5.1" font-weight="bold" text-anchor="middle" fill="#1a1a1a" >TIMP-2</text>
<text x="330.8" y="271.6" font-size="5.1" font-weight="bold" text-anchor="middle" fill="#1a1a1a" >CXCR4</text>
<text x="330.8" y="252.8" font-size="5.1" font-weight="bold" text-anchor="middle" fill="#1a1a1a" >COX1</text>
<text x="335.3" y="235.8" font-size="5.1" font-weight="bold" text-anchor="middle" fill="#1a1a1a" >COX2</text>
<text x="341.3" y="220.7" font-size="5.1" font-weight="bold" text-anchor="middle" fill="#1a1a1a" >TGF-β1</text>
<text x="353.4" y="208.2" font-size="5.1" font-weight="bold" text-anchor="middle" fill="#1a1a1a" >TGF-β2</text>
<text x="362.9" y="197.3" font-size="5.1" font-weight="bold" text-anchor="middle" fill="#1a1a1a" >integrin-α5</text>
<text x="389.3" y="190.5" font-size="5.1" font-weight="bold" text-anchor="middle" fill="#1a1a1a" >LL-37</text>
<text x="321.8" y="362.8" font-size="8.4" font-weight="bold" text-anchor="start" fill="#111" textLength="10.8" lengthAdjust="spacingAndGlyphs">C2</text>
<polygon points="410.8,421.7 413.5,422.2 415.9,423.6 417.7,425.7 418.7,428.3 418.7,431.1 417.7,433.7 415.9,435.8 413.5,437.2 410.8,437.7 408.1,437.2 405.7,435.8 403.9,433.7 402.9,431.1 402.9,428.3 403.9,425.7 405.7,423.6 408.1,422.2" fill="none" stroke="#d0d0d0" stroke-width="0.6" />
<polygon points="410.8,413.7 416.3,414.7 421.1,417.4 424.7,421.7 426.6,426.9 426.6,432.5 424.7,437.7 421.1,442.0 416.3,444.7 410.8,445.7 405.3,444.7 400.5,442.0 396.9,437.7 395.0,432.5 395.0,426.9 396.9,421.7 400.5,417.4 405.3,414.7" fill="none" stroke="#d0d0d0" stroke-width="0.6" />
<polygon points="410.8,405.7 419.0,407.1 426.2,411.3 431.6,417.7 434.4,425.5 434.4,433.9 431.6,441.7 426.2,448.1 419.0,452.3 410.8,453.7 402.6,452.3 395.4,448.1 390.0,441.7 387.2,433.9 387.2,425.5 390.0,417.7 395.4,411.3 402.6,407.1" fill="none" stroke="#d0d0d0" stroke-width="0.6" />
<polygon points="410.8,397.7 421.7,399.6 431.4,405.2 438.5,413.7 442.3,424.1 442.3,435.3 438.5,445.7 431.4,454.2 421.7,459.8 410.8,461.7 399.9,459.8 390.2,454.2 383.1,445.7 379.3,435.3 379.3,424.1 383.1,413.7 390.2,405.2 399.9,399.6" fill="none" stroke="#d0d0d0" stroke-width="0.6" />
<polygon points="410.8,389.7 424.5,392.1 436.5,399.1 445.4,409.7 450.2,422.8 450.2,436.6 445.4,449.7 436.5,460.3 424.5,467.3 410.8,469.7 397.1,467.3 385.1,460.3 376.2,449.7 371.4,436.6 371.4,422.8 376.2,409.7 385.1,399.1 397.1,392.1" fill="none" stroke="#d0d0d0" stroke-width="0.6" />
<polygon points="410.8,381.7 427.2,384.6 441.7,392.9 452.4,405.7 458.1,421.4 458.1,438.0 452.4,453.7 441.7,466.5 427.2,474.8 410.8,477.7 394.4,474.8 379.9,466.5 369.2,453.7 363.5,438.0 363.5,421.4 369.2,405.7 379.9,392.9 394.4,384.6" fill="none" stroke="#d0d0d0" stroke-width="0.6" />
<polygon points="410.8,373.7 430.0,377.1 446.8,386.8 459.3,401.7 465.9,420.0 465.9,439.4 459.3,457.7 446.8,472.6 430.0,482.3 410.8,485.7 391.6,482.3 374.8,472.6 362.3,457.7 355.7,439.4 355.7,420.0 362.3,401.7 374.8,386.8 391.6,377.1" fill="none" stroke="#d0d0d0" stroke-width="0.6" />
<polygon points="410.8,365.7 432.7,369.6 451.9,380.7 466.2,397.7 473.8,418.6 473.8,440.8 466.2,461.7 451.9,478.7 432.7,489.8 410.8,493.7 388.9,489.8 369.7,478.7 355.4,461.7 347.8,440.8 347.8,418.6 355.4,397.7 369.7,380.7 388.9,369.6" fill="none" stroke="#d0d0d0" stroke-width="0.6" />
<circle cx="410.8" cy="429.7" r="32.0" fill="none" stroke="#111" stroke-width="0.9"/>
<text x="403.5" y="431.9" font-size="4.8" font-weight="bold" text-anchor="end" fill="#333" >80</text>
<text x="403.5" y="423.9" font-size="4.8" font-weight="bold" text-anchor="end" fill="#333" >85</text>
<text x="403.5" y="415.9" font-size="4.8" font-weight="bold" text-anchor="end" fill="#333" >90</text>
<text x="403.5" y="407.9" font-size="4.8" font-weight="bold" text-anchor="end" fill="#333" >95</text>
<text x="403.5" y="399.9" font-size="4.8" font-weight="bold" text-anchor="end" fill="#333" >100</text>
<text x="403.5" y="391.9" font-size="4.8" font-weight="bold" text-anchor="end" fill="#333" >105</text>
<text x="403.5" y="383.9" font-size="4.8" font-weight="bold" text-anchor="end" fill="#333" >110</text>
<text x="403.5" y="375.9" font-size="4.8" font-weight="bold" text-anchor="end" fill="#333" >115</text>
<text x="403.5" y="367.9" font-size="4.8" font-weight="bold" text-anchor="end" fill="#333" >120</text>
<polygon points="410.7,371.9 424.7,390.7 433.6,401.5 445.7,409.2 445.9,423.2 452.4,436.9 456.7,455.7 435.5,459.1 424.7,467.5 411.4,470.7 396.3,467.8 385.7,459.1 372.9,451.9 360.1,438.9 369.8,423.0 378.9,411.6 387.3,402.0 394.1,384.6" fill="none" stroke="#2f6fbf" stroke-width="1.6" stroke-dasharray="1.5 2.0" stroke-linecap="butt"/>
<circle cx="410.7" cy="371.9" r="3.5" fill="#ff00ff"/>
<circle cx="424.7" cy="390.7" r="3.5" fill="#ffc000"/>
<circle cx="433.6" cy="401.5" r="3.5" fill="#215968"/>
<circle cx="445.7" cy="409.2" r="3.5" fill="#00b050"/>
<circle cx="445.9" cy="423.2" r="3.5" fill="#7030a0"/>
<circle cx="452.4" cy="436.9" r="3.5" fill="#002060"/>
<circle cx="456.7" cy="455.7" r="3.5" fill="#ff0000"/>
<circle cx="435.5" cy="459.1" r="3.5" fill="#0070c0"/>
<circle cx="424.7" cy="467.5" r="3.5" fill="#31859c"/>
<circle cx="411.4" cy="470.7" r="3.5" fill="#00b0f0"/>
<circle cx="396.3" cy="467.8" r="3.5" fill="#92d050"/>
<circle cx="385.7" cy="459.1" r="3.5" fill="#b3a2c7"/>
<circle cx="372.9" cy="451.9" r="3.5" fill="#c3d69b"/>
<circle cx="360.1" cy="438.9" r="3.5" fill="#c00000"/>
<circle cx="369.8" cy="423.0" r="3.5" fill="#fac090"/>
<circle cx="378.9" cy="411.6" r="3.5" fill="#7f7f7f"/>
<circle cx="387.3" cy="402.0" r="3.5" fill="#e6b9b8"/>
<circle cx="394.1" cy="384.6" r="3.5" fill="#f79646"/>
<text x="410.8" y="359.8" font-size="5.4" font-weight="bold" text-anchor="middle" fill="#1a1a1a" >p53</text>
<text x="439.5" y="368.5" font-size="5.4" font-weight="bold" text-anchor="middle" fill="#1a1a1a" >BAD</text>
<text x="459.1" y="380.6" font-size="5.4" font-weight="bold" text-anchor="middle" fill="#1a1a1a" >BID</text>
<text x="474.2" y="397.6" font-size="5.4" font-weight="bold" text-anchor="middle" fill="#1a1a1a" >BAK</text>
<text x="484.4" y="419.1" font-size="5.4" font-weight="bold" text-anchor="middle" fill="#1a1a1a" >PUMA</text>
<text x="484.4" y="442.9" font-size="5.4" font-weight="bold" text-anchor="middle" fill="#1a1a1a" >NOXA</text>
<text x="474.2" y="464.8" font-size="5.4" font-weight="bold" text-anchor="middle" fill="#1a1a1a" >BAX</text>
<text x="462.9" y="481.7" font-size="5.4" font-weight="bold" text-anchor="middle" fill="#1a1a1a" >APAF-1</text>
<text x="446.7" y="493.8" font-size="5.4" font-weight="bold" text-anchor="middle" fill="#1a1a1a" >caspase 9</text>
<text x="410.8" y="502.1" font-size="5.4" font-weight="bold" text-anchor="middle" fill="#1a1a1a" >c-caspase 9</text>
<text x="374.9" y="493.8" font-size="5.4" font-weight="bold" text-anchor="middle" fill="#1a1a1a" >caspase 3</text>
<text x="352.3" y="481.7" font-size="5.4" font-weight="bold" text-anchor="middle" fill="#1a1a1a" >c-caspase 3</text>
<text x="347.8" y="464.8" font-size="5.4" font-weight="bold" text-anchor="middle" fill="#1a1a1a" >AIF</text>
<text x="337.2" y="442.9" font-size="5.4" font-weight="bold" text-anchor="middle" fill="#1a1a1a" >PARP</text>
<text x="335.3" y="419.1" font-size="5.4" font-weight="bold" text-anchor="middle" fill="#1a1a1a" >c-PARP</text>
<text x="345.9" y="397.6" font-size="5.4" font-weight="bold" text-anchor="middle" fill="#1a1a1a" >BCL2</text>
<text x="358.3" y="379.8" font-size="5.4" font-weight="bold" text-anchor="middle" fill="#1a1a1a" >MDM2</text>
<text x="381.0" y="368.1" font-size="5.4" font-weight="bold" text-anchor="middle" fill="#1a1a1a" >ATM</text>
<text x="411.6" y="432.3" font-size="7.4" font-weight="bold" text-anchor="middle" fill="#222" >16H</text>
<text x="411.4" y="460.6" font-size="4.2" font-weight="bold" text-anchor="middle" fill="#111" >100%</text>
<text x="321.8" y="534.9" font-size="8.4" font-weight="bold" text-anchor="start" fill="#111" textLength="10.8" lengthAdjust="spacingAndGlyphs">D2</text>
<polygon points="410.7,591.2 418.7,594.5 422.0,602.5 418.7,610.5 410.7,613.8 402.7,610.5 399.4,602.5 402.7,594.5" fill="none" stroke="#d0d0d0" stroke-width="0.6" />
<polygon points="410.7,579.9 426.7,586.5 433.3,602.5 426.7,618.5 410.7,625.1 394.7,618.5 388.1,602.5 394.7,586.5" fill="none" stroke="#d0d0d0" stroke-width="0.6" />
<polygon points="410.7,568.6 434.7,578.5 444.6,602.5 434.7,626.5 410.7,636.4 386.7,626.5 376.8,602.5 386.7,578.5" fill="none" stroke="#d0d0d0" stroke-width="0.6" />
<polygon points="410.7,557.3 442.7,570.5 455.9,602.5 442.7,634.5 410.7,647.7 378.7,634.5 365.5,602.5 378.7,570.5" fill="none" stroke="#d0d0d0" stroke-width="0.6" />
<polygon points="410.7,546.0 450.7,562.5 467.2,602.5 450.7,642.5 410.7,659.0 370.7,642.5 354.2,602.5 370.7,562.5" fill="none" stroke="#d0d0d0" stroke-width="0.6" />
<polygon points="410.7,534.7 458.6,554.6 478.5,602.5 458.6,650.4 410.7,670.3 362.8,650.4 342.9,602.5 362.8,554.6" fill="none" stroke="#d0d0d0" stroke-width="0.6" />
<polygon points="410.7,557.3 442.7,570.5 455.9,602.5 442.7,634.5 410.7,647.7 378.7,634.5 365.5,602.5 378.7,570.5" fill="none" stroke="#111" stroke-width="0.9" />
<text x="403.5" y="604.7" font-size="4.8" font-weight="bold" text-anchor="end" fill="#333" >80</text>
<text x="403.5" y="593.4" font-size="4.8" font-weight="bold" text-anchor="end" fill="#333" >85</text>
<text x="403.5" y="582.1" font-size="4.8" font-weight="bold" text-anchor="end" fill="#333" >90</text>
<text x="403.5" y="570.8" font-size="4.8" font-weight="bold" text-anchor="end" fill="#333" >95</text>
<text x="403.5" y="559.5" font-size="4.8" font-weight="bold" text-anchor="end" fill="#333" >100</text>
<text x="403.5" y="548.2" font-size="4.8" font-weight="bold" text-anchor="end" fill="#333" >105</text>
<text x="403.5" y="536.9" font-size="4.8" font-weight="bold" text-anchor="end" fill="#333" >110</text>
<polygon points="410.2,563.7 441.6,571.4 447.1,602.8 447.1,640.1 410.0,652.8 376.5,636.0 355.3,602.3 372.9,564.9" fill="none" stroke="#2f6fbf" stroke-width="1.6" stroke-dasharray="1.5 2.0" stroke-linecap="butt"/>
<circle cx="410.2" cy="563.7" r="3.5" fill="#00b050"/>
<circle cx="441.6" cy="571.4" r="3.5" fill="#00b0f0"/>
<circle cx="447.1" cy="602.8" r="3.5" fill="#0070c0"/>
<circle cx="447.1" cy="640.1" r="3.5" fill="#ff0000"/>
<circle cx="410.0" cy="652.8" r="3.5" fill="#e46c0a"/>
<circle cx="376.5" cy="636.0" r="3.5" fill="#f79646"/>
<circle cx="355.3" cy="602.3" r="3.5" fill="#ff00ff"/>
<circle cx="372.9" cy="564.9" r="3.5" fill="#c00000"/>
<text x="410.0" y="530.6" font-size="4.8" font-weight="bold" text-anchor="middle" fill="#1a1a1a" >FASL</text>
<text x="464.0" y="554.4" font-size="4.8" font-weight="bold" text-anchor="middle" fill="#1a1a1a" >FAS</text>
<text x="487.4" y="604.2" font-size="4.8" font-weight="bold" text-anchor="middle" fill="#1a1a1a" >FADD</text>
<text x="464.8" y="652.5" font-size="4.8" font-weight="bold" text-anchor="middle" fill="#1a1a1a" >FLIP</text>
<text x="410.0" y="677.8" font-size="4.8" font-weight="bold" text-anchor="middle" fill="#1a1a1a" >BID</text>
<text x="349.6" y="653.3" font-size="4.8" font-weight="bold" text-anchor="middle" fill="#1a1a1a" >caspase 8</text>
<text x="328.9" y="604.2" font-size="4.8" font-weight="bold" text-anchor="middle" fill="#1a1a1a" >caspase 3</text>
<text x="347.8" y="554.4" font-size="4.8" font-weight="bold" text-anchor="middle" fill="#1a1a1a" >c-caspase 3</text>
<text x="411.5" y="605.1" font-size="7.4" font-weight="bold" text-anchor="middle" fill="#222" >16H</text>
<text x="425.0" y="638.5" font-size="3.6" font-weight="bold" text-anchor="middle" fill="#111" transform="rotate(-32 425 638.5)">100%</text>
</svg></body></html>
